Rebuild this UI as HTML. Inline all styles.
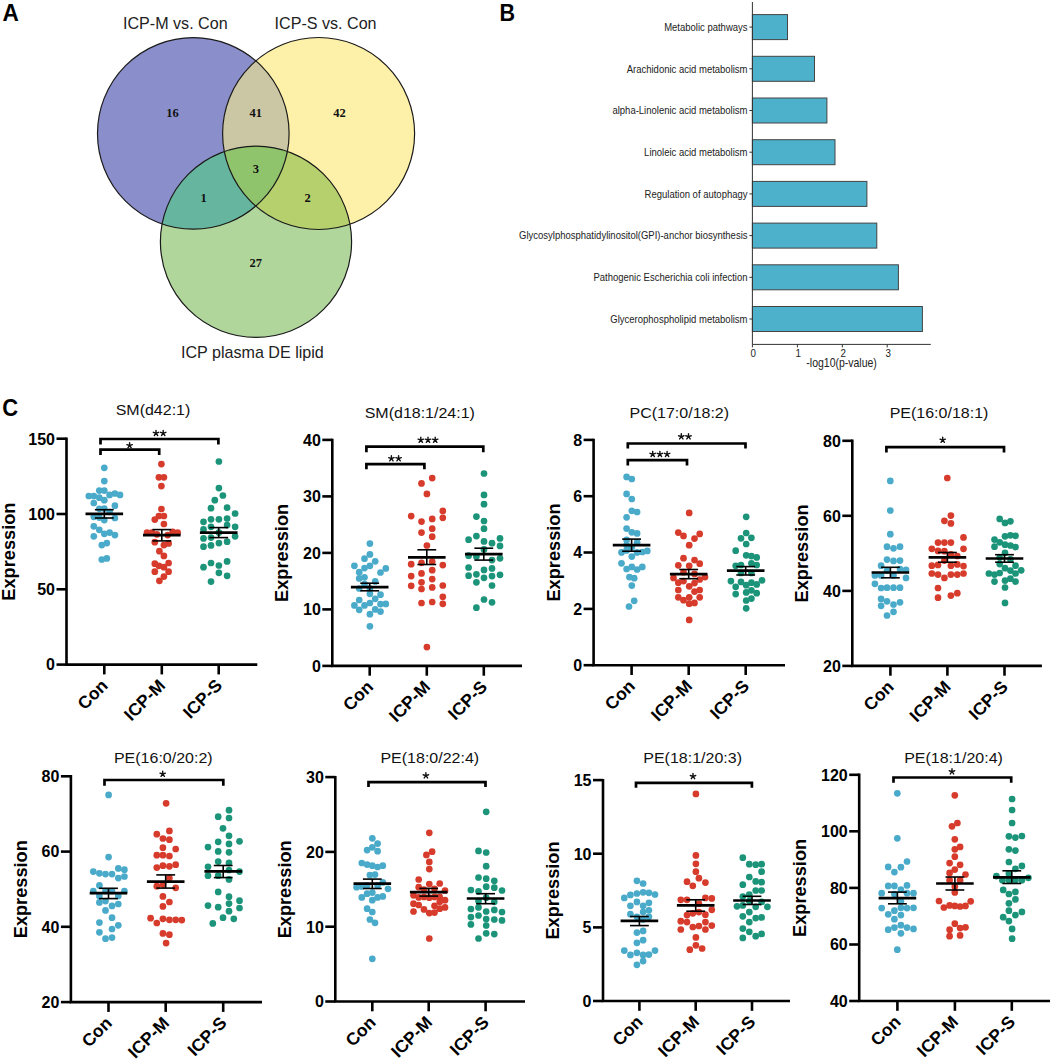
<!DOCTYPE html><html><head><meta charset="utf-8"><style>html,body{margin:0;padding:0;background:#fff;}svg{display:block;}</style></head><body><svg width="1052" height="1059" viewBox="0 0 1052 1059">
<rect width="1052" height="1059" fill="#fff"/>
<text transform="translate(2.6,20.6) scale(1.03,1.07)" font-family="'Liberation Sans', sans-serif" font-weight="700" font-size="22">A</text>
<text transform="translate(499.6,20.6) scale(0.98,1.06)" font-family="'Liberation Sans', sans-serif" font-weight="700" font-size="22">B</text>
<text transform="translate(2.3,415.6) scale(1,1.06)" font-family="'Liberation Sans', sans-serif" font-weight="700" font-size="22">C</text>
<defs>
<clipPath id="cb"><circle cx="193.3" cy="133.4" r="95.8"/></clipPath>
<clipPath id="cy"><circle cx="318.6" cy="133.5" r="96"/></clipPath>
</defs>
<circle cx="193.3" cy="133.4" r="95.8" fill="#8a8fcb" />
<circle cx="318.6" cy="133.5" r="96" fill="#fdf0a8" />
<circle cx="256" cy="241.8" r="95.6" fill="#b0d69c" />
<g clip-path="url(#cb)"><circle cx="318.6" cy="133.5" r="96" fill="#cbc6a3" /><circle cx="256" cy="241.8" r="95.6" fill="#66b59e" /></g>
<g clip-path="url(#cy)"><circle cx="256" cy="241.8" r="95.6" fill="#b6d06e" /></g>
<g clip-path="url(#cb)"><g clip-path="url(#cy)"><circle cx="256" cy="241.8" r="95.6" fill="#8fc36c" /></g></g>
<circle cx="193.3" cy="133.4" r="95.8" fill="none" stroke="#1a1a1a" stroke-width="1.2"/>
<circle cx="318.6" cy="133.5" r="96" fill="none" stroke="#1a1a1a" stroke-width="1.2"/>
<circle cx="256" cy="241.8" r="95.6" fill="none" stroke="#1a1a1a" stroke-width="1.2"/>
<text x="172.5" y="116.8" text-anchor="middle" font-family="'Liberation Serif', serif" font-weight="700" font-size="12.5" fill="#111">16</text>
<text x="255.8" y="116.8" text-anchor="middle" font-family="'Liberation Serif', serif" font-weight="700" font-size="12.5" fill="#111">41</text>
<text x="339.5" y="116.8" text-anchor="middle" font-family="'Liberation Serif', serif" font-weight="700" font-size="12.5" fill="#111">42</text>
<text x="255.8" y="172.9" text-anchor="middle" font-family="'Liberation Serif', serif" font-weight="700" font-size="12.5" fill="#111">3</text>
<text x="203.5" y="202.2" text-anchor="middle" font-family="'Liberation Serif', serif" font-weight="700" font-size="12.5" fill="#111">1</text>
<text x="307.7" y="202.2" text-anchor="middle" font-family="'Liberation Serif', serif" font-weight="700" font-size="12.5" fill="#111">2</text>
<text x="255.8" y="266.5" text-anchor="middle" font-family="'Liberation Serif', serif" font-weight="700" font-size="12.5" fill="#111">27</text>
<text x="123" y="28.7" font-family="'Liberation Sans', sans-serif" font-size="16.1" fill="#222">ICP-M vs. Con</text>
<text x="274.6" y="28.7" font-family="'Liberation Sans', sans-serif" font-size="16.1" fill="#222">ICP-S vs. Con</text>
<text x="181.0" y="357.6" font-family="'Liberation Sans', sans-serif" font-size="16.1" fill="#222">ICP plasma DE lipid</text>
<rect x="752.4" y="14.6" width="35.1" height="25.0" fill="#4eb1cb" stroke="#444" stroke-width="1"/>
<line x1="749.4" y1="27.1" x2="752.4" y2="27.1" stroke="#333" stroke-width="1"/>
<text transform="translate(747.5,30.9) scale(1,1.13)" text-anchor="end" font-family="'Liberation Sans', sans-serif" font-size="9.5" fill="#222">Metabolic pathways</text>
<rect x="752.4" y="56.3" width="62.1" height="25.0" fill="#4eb1cb" stroke="#444" stroke-width="1"/>
<line x1="749.4" y1="68.8" x2="752.4" y2="68.8" stroke="#333" stroke-width="1"/>
<text transform="translate(747.5,72.6) scale(1,1.13)" text-anchor="end" font-family="'Liberation Sans', sans-serif" font-size="9.5" fill="#222">Arachidonic acid metabolism</text>
<rect x="752.4" y="98.0" width="74.5" height="25.0" fill="#4eb1cb" stroke="#444" stroke-width="1"/>
<line x1="749.4" y1="110.5" x2="752.4" y2="110.5" stroke="#333" stroke-width="1"/>
<text transform="translate(747.5,114.3) scale(1,1.13)" text-anchor="end" font-family="'Liberation Sans', sans-serif" font-size="9.5" fill="#222">alpha-Linolenic acid metabolism</text>
<rect x="752.4" y="139.7" width="82.6" height="25.0" fill="#4eb1cb" stroke="#444" stroke-width="1"/>
<line x1="749.4" y1="152.2" x2="752.4" y2="152.2" stroke="#333" stroke-width="1"/>
<text transform="translate(747.5,156.0) scale(1,1.13)" text-anchor="end" font-family="'Liberation Sans', sans-serif" font-size="9.5" fill="#222">Linoleic acid metabolism</text>
<rect x="752.4" y="181.4" width="114.5" height="25.0" fill="#4eb1cb" stroke="#444" stroke-width="1"/>
<line x1="749.4" y1="193.9" x2="752.4" y2="193.9" stroke="#333" stroke-width="1"/>
<text transform="translate(747.5,197.7) scale(1,1.13)" text-anchor="end" font-family="'Liberation Sans', sans-serif" font-size="9.5" fill="#222">Regulation of autophagy</text>
<rect x="752.4" y="223.1" width="124.4" height="25.0" fill="#4eb1cb" stroke="#444" stroke-width="1"/>
<line x1="749.4" y1="235.6" x2="752.4" y2="235.6" stroke="#333" stroke-width="1"/>
<text transform="translate(747.5,239.4) scale(1,1.13)" text-anchor="end" font-family="'Liberation Sans', sans-serif" font-size="9.5" fill="#222">Glycosylphosphatidylinositol(GPI)-anchor biosynthesis</text>
<rect x="752.4" y="264.8" width="146.0" height="25.0" fill="#4eb1cb" stroke="#444" stroke-width="1"/>
<line x1="749.4" y1="277.3" x2="752.4" y2="277.3" stroke="#333" stroke-width="1"/>
<text transform="translate(747.5,281.1) scale(1,1.13)" text-anchor="end" font-family="'Liberation Sans', sans-serif" font-size="9.5" fill="#222">Pathogenic Escherichia coli infection</text>
<rect x="752.4" y="306.5" width="170.0" height="25.0" fill="#4eb1cb" stroke="#444" stroke-width="1"/>
<line x1="749.4" y1="319.0" x2="752.4" y2="319.0" stroke="#333" stroke-width="1"/>
<text transform="translate(747.5,322.8) scale(1,1.13)" text-anchor="end" font-family="'Liberation Sans', sans-serif" font-size="9.5" fill="#222">Glycerophospholipid metabolism</text>
<line x1="752.4" y1="2" x2="752.4" y2="344.4" stroke="#333" stroke-width="1"/>
<line x1="752.4" y1="344.4" x2="930.8" y2="344.4" stroke="#333" stroke-width="1"/>
<line x1="752.4" y1="344.4" x2="752.4" y2="347.4" stroke="#333" stroke-width="1"/>
<text transform="translate(753.3,356.6) scale(1,1.1)" text-anchor="middle" font-family="'Liberation Sans', sans-serif" font-size="9.8" fill="#222">0</text>
<line x1="797.4" y1="344.4" x2="797.4" y2="347.4" stroke="#333" stroke-width="1"/>
<text transform="translate(798.2,356.6) scale(1,1.1)" text-anchor="middle" font-family="'Liberation Sans', sans-serif" font-size="9.8" fill="#222">1</text>
<line x1="842.3" y1="344.4" x2="842.3" y2="347.4" stroke="#333" stroke-width="1"/>
<text transform="translate(843.2,356.6) scale(1,1.1)" text-anchor="middle" font-family="'Liberation Sans', sans-serif" font-size="9.8" fill="#222">2</text>
<line x1="887.2" y1="344.4" x2="887.2" y2="347.4" stroke="#333" stroke-width="1"/>
<text transform="translate(888.1,356.6) scale(1,1.1)" text-anchor="middle" font-family="'Liberation Sans', sans-serif" font-size="9.8" fill="#222">3</text>
<text transform="translate(841.6,367.3) scale(1,1.13)" text-anchor="middle" font-family="'Liberation Sans', sans-serif" font-size="10.5" fill="#222">-log10(p-value)</text>
<circle cx="104.3" cy="467.8" r="3.35" fill="#4aaac9"/>
<circle cx="104.3" cy="481.1" r="3.35" fill="#4aaac9"/>
<circle cx="99.3" cy="490.6" r="3.35" fill="#4aaac9"/>
<circle cx="104.3" cy="490.6" r="3.35" fill="#4aaac9"/>
<circle cx="88.8" cy="496.0" r="3.35" fill="#4aaac9"/>
<circle cx="93.8" cy="496.0" r="3.35" fill="#4aaac9"/>
<circle cx="99.3" cy="497.7" r="3.35" fill="#4aaac9"/>
<circle cx="104.3" cy="500.2" r="3.35" fill="#4aaac9"/>
<circle cx="109.6" cy="494.9" r="3.35" fill="#4aaac9"/>
<circle cx="114.9" cy="493.5" r="3.35" fill="#4aaac9"/>
<circle cx="120.0" cy="494.9" r="3.35" fill="#4aaac9"/>
<circle cx="93.8" cy="503.0" r="3.35" fill="#4aaac9"/>
<circle cx="114.9" cy="505.7" r="3.35" fill="#4aaac9"/>
<circle cx="99.3" cy="508.8" r="3.35" fill="#4aaac9"/>
<circle cx="104.3" cy="508.5" r="3.35" fill="#4aaac9"/>
<circle cx="109.6" cy="511.8" r="3.35" fill="#4aaac9"/>
<circle cx="93.8" cy="516.8" r="3.35" fill="#4aaac9"/>
<circle cx="99.3" cy="517.6" r="3.35" fill="#4aaac9"/>
<circle cx="104.3" cy="520.1" r="3.35" fill="#4aaac9"/>
<circle cx="114.9" cy="518.0" r="3.35" fill="#4aaac9"/>
<circle cx="93.8" cy="526.3" r="3.35" fill="#4aaac9"/>
<circle cx="99.3" cy="529.8" r="3.35" fill="#4aaac9"/>
<circle cx="104.3" cy="533.8" r="3.35" fill="#4aaac9"/>
<circle cx="109.6" cy="532.6" r="3.35" fill="#4aaac9"/>
<circle cx="114.9" cy="535.1" r="3.35" fill="#4aaac9"/>
<circle cx="93.8" cy="536.3" r="3.35" fill="#4aaac9"/>
<circle cx="101.8" cy="545.1" r="3.35" fill="#4aaac9"/>
<circle cx="106.8" cy="543.1" r="3.35" fill="#4aaac9"/>
<circle cx="101.8" cy="559.5" r="3.35" fill="#4aaac9"/>
<circle cx="106.8" cy="558.4" r="3.35" fill="#4aaac9"/>
<circle cx="161.4" cy="464.1" r="3.35" fill="#d63b2b"/>
<circle cx="158.9" cy="477.3" r="3.35" fill="#d63b2b"/>
<circle cx="163.9" cy="477.3" r="3.35" fill="#d63b2b"/>
<circle cx="161.4" cy="486.1" r="3.35" fill="#d63b2b"/>
<circle cx="161.4" cy="509.0" r="3.35" fill="#d63b2b"/>
<circle cx="158.9" cy="516.0" r="3.35" fill="#d63b2b"/>
<circle cx="163.9" cy="516.0" r="3.35" fill="#d63b2b"/>
<circle cx="154.8" cy="519.6" r="3.35" fill="#d63b2b"/>
<circle cx="163.9" cy="524.0" r="3.35" fill="#d63b2b"/>
<circle cx="147.0" cy="532.6" r="3.35" fill="#d63b2b"/>
<circle cx="152.0" cy="532.6" r="3.35" fill="#d63b2b"/>
<circle cx="156.9" cy="534.3" r="3.35" fill="#d63b2b"/>
<circle cx="167.7" cy="535.1" r="3.35" fill="#d63b2b"/>
<circle cx="172.7" cy="531.8" r="3.35" fill="#d63b2b"/>
<circle cx="177.7" cy="532.6" r="3.35" fill="#d63b2b"/>
<circle cx="154.8" cy="542.2" r="3.35" fill="#d63b2b"/>
<circle cx="163.9" cy="545.1" r="3.35" fill="#d63b2b"/>
<circle cx="168.6" cy="543.4" r="3.35" fill="#d63b2b"/>
<circle cx="159.4" cy="551.2" r="3.35" fill="#d63b2b"/>
<circle cx="163.9" cy="555.9" r="3.35" fill="#d63b2b"/>
<circle cx="154.8" cy="563.7" r="3.35" fill="#d63b2b"/>
<circle cx="158.9" cy="565.8" r="3.35" fill="#d63b2b"/>
<circle cx="163.9" cy="567.2" r="3.35" fill="#d63b2b"/>
<circle cx="168.6" cy="563.0" r="3.35" fill="#d63b2b"/>
<circle cx="154.8" cy="571.7" r="3.35" fill="#d63b2b"/>
<circle cx="168.6" cy="571.7" r="3.35" fill="#d63b2b"/>
<circle cx="163.9" cy="576.6" r="3.35" fill="#d63b2b"/>
<circle cx="159.4" cy="580.8" r="3.35" fill="#d63b2b"/>
<circle cx="218.9" cy="461.5" r="3.35" fill="#1b9479"/>
<circle cx="218.9" cy="488.1" r="3.35" fill="#1b9479"/>
<circle cx="222.9" cy="495.5" r="3.35" fill="#1b9479"/>
<circle cx="214.8" cy="500.2" r="3.35" fill="#1b9479"/>
<circle cx="211.0" cy="508.2" r="3.35" fill="#1b9479"/>
<circle cx="227.1" cy="507.7" r="3.35" fill="#1b9479"/>
<circle cx="235.1" cy="513.5" r="3.35" fill="#1b9479"/>
<circle cx="203.5" cy="521.8" r="3.35" fill="#1b9479"/>
<circle cx="211.0" cy="519.3" r="3.35" fill="#1b9479"/>
<circle cx="218.9" cy="519.3" r="3.35" fill="#1b9479"/>
<circle cx="227.1" cy="518.5" r="3.35" fill="#1b9479"/>
<circle cx="227.1" cy="525.1" r="3.35" fill="#1b9479"/>
<circle cx="235.1" cy="526.8" r="3.35" fill="#1b9479"/>
<circle cx="211.0" cy="526.8" r="3.35" fill="#1b9479"/>
<circle cx="203.5" cy="529.3" r="3.35" fill="#1b9479"/>
<circle cx="203.5" cy="538.4" r="3.35" fill="#1b9479"/>
<circle cx="211.0" cy="537.6" r="3.35" fill="#1b9479"/>
<circle cx="218.9" cy="532.6" r="3.35" fill="#1b9479"/>
<circle cx="235.1" cy="536.3" r="3.35" fill="#1b9479"/>
<circle cx="203.5" cy="546.7" r="3.35" fill="#1b9479"/>
<circle cx="211.0" cy="545.4" r="3.35" fill="#1b9479"/>
<circle cx="218.9" cy="543.1" r="3.35" fill="#1b9479"/>
<circle cx="227.1" cy="541.7" r="3.35" fill="#1b9479"/>
<circle cx="211.0" cy="563.0" r="3.35" fill="#1b9479"/>
<circle cx="227.1" cy="561.4" r="3.35" fill="#1b9479"/>
<circle cx="203.5" cy="567.2" r="3.35" fill="#1b9479"/>
<circle cx="218.9" cy="565.5" r="3.35" fill="#1b9479"/>
<circle cx="218.9" cy="572.8" r="3.35" fill="#1b9479"/>
<circle cx="227.1" cy="575.8" r="3.35" fill="#1b9479"/>
<circle cx="211.0" cy="581.6" r="3.35" fill="#1b9479"/>
<line x1="85.5" y1="513.8" x2="123.1" y2="513.8" stroke="#000" stroke-width="2.7"/>
<line x1="104.3" y1="509.7" x2="104.3" y2="518.0" stroke="#000" stroke-width="1.6"/>
<line x1="94.9" y1="509.7" x2="113.7" y2="509.7" stroke="#000" stroke-width="1.6"/>
<line x1="94.9" y1="518.0" x2="113.7" y2="518.0" stroke="#000" stroke-width="1.6"/>
<line x1="143.0" y1="535.1" x2="180.6" y2="535.1" stroke="#000" stroke-width="2.7"/>
<line x1="161.8" y1="529.6" x2="161.8" y2="540.9" stroke="#000" stroke-width="1.6"/>
<line x1="152.4" y1="529.6" x2="171.2" y2="529.6" stroke="#000" stroke-width="1.6"/>
<line x1="152.4" y1="540.9" x2="171.2" y2="540.9" stroke="#000" stroke-width="1.6"/>
<line x1="199.9" y1="532.6" x2="237.5" y2="532.6" stroke="#000" stroke-width="2.7"/>
<line x1="218.7" y1="527.6" x2="218.7" y2="537.6" stroke="#000" stroke-width="1.6"/>
<line x1="209.3" y1="527.6" x2="228.1" y2="527.6" stroke="#000" stroke-width="1.6"/>
<line x1="209.3" y1="537.6" x2="228.1" y2="537.6" stroke="#000" stroke-width="1.6"/>
<path d="M66.5 437.5 V664.6 H257.3" fill="none" stroke="#000" stroke-width="2.6"/>
<line x1="56.5" y1="664.6" x2="66.5" y2="664.6" stroke="#000" stroke-width="2.6"/>
<text x="55.0" y="670.4" text-anchor="end" font-family="'Liberation Sans', sans-serif" font-weight="700" font-size="16">0</text>
<line x1="56.5" y1="589.3" x2="66.5" y2="589.3" stroke="#000" stroke-width="2.6"/>
<text x="55.0" y="595.1" text-anchor="end" font-family="'Liberation Sans', sans-serif" font-weight="700" font-size="16">50</text>
<line x1="56.5" y1="514.0" x2="66.5" y2="514.0" stroke="#000" stroke-width="2.6"/>
<text x="55.0" y="519.8" text-anchor="end" font-family="'Liberation Sans', sans-serif" font-weight="700" font-size="16">100</text>
<line x1="56.5" y1="438.7" x2="66.5" y2="438.7" stroke="#000" stroke-width="2.6"/>
<text x="55.0" y="444.5" text-anchor="end" font-family="'Liberation Sans', sans-serif" font-weight="700" font-size="16">150</text>
<line x1="104.3" y1="664.6" x2="104.3" y2="674.4" stroke="#000" stroke-width="2.6"/>
<text transform="translate(108.8,686.6) rotate(-45)" text-anchor="end" font-family="'Liberation Sans', sans-serif" font-weight="700" font-size="17.5">Con</text>
<line x1="161.8" y1="664.6" x2="161.8" y2="674.4" stroke="#000" stroke-width="2.6"/>
<text transform="translate(166.3,686.6) rotate(-45)" text-anchor="end" font-family="'Liberation Sans', sans-serif" font-weight="700" font-size="17.5">ICP-M</text>
<line x1="218.7" y1="664.6" x2="218.7" y2="674.4" stroke="#000" stroke-width="2.6"/>
<text transform="translate(223.2,686.6) rotate(-45)" text-anchor="end" font-family="'Liberation Sans', sans-serif" font-weight="700" font-size="17.5">ICP-S</text>
<text transform="translate(14.5,551.6) rotate(-90)" text-anchor="middle" font-family="'Liberation Sans', sans-serif" font-weight="700" font-size="18.2">Expression</text>
<text transform="translate(153.0,414.6) scale(1,0.9)" text-anchor="middle" font-family="'Liberation Sans', sans-serif" font-size="16" fill="#111">SM(d42:1)</text>
<path d="M100.5 444.5 V439.0 H218.4 V444.5" fill="none" stroke="#000" stroke-width="2.7"/>
<path d="M156.00 433.20L156.00 430.35M156.00 433.20L158.71 432.32M156.00 433.20L157.68 435.51M156.00 433.20L154.32 435.51M156.00 433.20L153.29 432.32" stroke="#111" stroke-width="1.4" stroke-linecap="round" fill="none"/>
<path d="M163.20 433.20L163.20 430.35M163.20 433.20L165.91 432.32M163.20 433.20L164.88 435.51M163.20 433.20L161.52 435.51M163.20 433.20L160.49 432.32" stroke="#111" stroke-width="1.4" stroke-linecap="round" fill="none"/>
<path d="M100.5 455.1 V449.6 H159.2 V455.1" fill="none" stroke="#000" stroke-width="2.7"/>
<path d="M129.60 445.50L129.60 442.65M129.60 445.50L132.31 444.62M129.60 445.50L131.28 447.81M129.60 445.50L127.92 447.81M129.60 445.50L126.89 444.62" stroke="#111" stroke-width="1.4" stroke-linecap="round" fill="none"/>
<circle cx="369.9" cy="543.6" r="3.35" fill="#4aaac9"/>
<circle cx="369.9" cy="554.4" r="3.35" fill="#4aaac9"/>
<circle cx="364.5" cy="558.7" r="3.35" fill="#4aaac9"/>
<circle cx="375.2" cy="561.3" r="3.35" fill="#4aaac9"/>
<circle cx="354.4" cy="565.8" r="3.35" fill="#4aaac9"/>
<circle cx="364.5" cy="568.1" r="3.35" fill="#4aaac9"/>
<circle cx="369.9" cy="565.8" r="3.35" fill="#4aaac9"/>
<circle cx="385.8" cy="568.4" r="3.35" fill="#4aaac9"/>
<circle cx="359.2" cy="572.2" r="3.35" fill="#4aaac9"/>
<circle cx="380.5" cy="572.5" r="3.35" fill="#4aaac9"/>
<circle cx="359.2" cy="578.4" r="3.35" fill="#4aaac9"/>
<circle cx="364.5" cy="577.3" r="3.35" fill="#4aaac9"/>
<circle cx="375.2" cy="581.4" r="3.35" fill="#4aaac9"/>
<circle cx="364.5" cy="584.1" r="3.35" fill="#4aaac9"/>
<circle cx="369.9" cy="588.5" r="3.35" fill="#4aaac9"/>
<circle cx="359.2" cy="588.5" r="3.35" fill="#4aaac9"/>
<circle cx="369.9" cy="593.8" r="3.35" fill="#4aaac9"/>
<circle cx="380.5" cy="594.7" r="3.35" fill="#4aaac9"/>
<circle cx="359.2" cy="600.0" r="3.35" fill="#4aaac9"/>
<circle cx="375.2" cy="598.8" r="3.35" fill="#4aaac9"/>
<circle cx="354.4" cy="605.4" r="3.35" fill="#4aaac9"/>
<circle cx="364.5" cy="605.4" r="3.35" fill="#4aaac9"/>
<circle cx="369.9" cy="603.0" r="3.35" fill="#4aaac9"/>
<circle cx="380.5" cy="604.1" r="3.35" fill="#4aaac9"/>
<circle cx="385.8" cy="603.9" r="3.35" fill="#4aaac9"/>
<circle cx="359.2" cy="609.8" r="3.35" fill="#4aaac9"/>
<circle cx="375.2" cy="609.4" r="3.35" fill="#4aaac9"/>
<circle cx="380.5" cy="611.6" r="3.35" fill="#4aaac9"/>
<circle cx="369.9" cy="614.2" r="3.35" fill="#4aaac9"/>
<circle cx="369.9" cy="626.3" r="3.35" fill="#4aaac9"/>
<circle cx="432.2" cy="478.1" r="3.35" fill="#d63b2b"/>
<circle cx="421.5" cy="483.4" r="3.35" fill="#d63b2b"/>
<circle cx="426.9" cy="493.9" r="3.35" fill="#d63b2b"/>
<circle cx="442.8" cy="510.9" r="3.35" fill="#d63b2b"/>
<circle cx="442.8" cy="517.8" r="3.35" fill="#d63b2b"/>
<circle cx="411.2" cy="516.1" r="3.35" fill="#d63b2b"/>
<circle cx="421.5" cy="521.6" r="3.35" fill="#d63b2b"/>
<circle cx="432.2" cy="518.9" r="3.35" fill="#d63b2b"/>
<circle cx="421.5" cy="532.6" r="3.35" fill="#d63b2b"/>
<circle cx="432.2" cy="528.7" r="3.35" fill="#d63b2b"/>
<circle cx="432.2" cy="536.7" r="3.35" fill="#d63b2b"/>
<circle cx="426.9" cy="545.5" r="3.35" fill="#d63b2b"/>
<circle cx="432.2" cy="561.5" r="3.35" fill="#d63b2b"/>
<circle cx="421.5" cy="562.8" r="3.35" fill="#d63b2b"/>
<circle cx="411.2" cy="564.2" r="3.35" fill="#d63b2b"/>
<circle cx="442.8" cy="565.1" r="3.35" fill="#d63b2b"/>
<circle cx="421.5" cy="573.4" r="3.35" fill="#d63b2b"/>
<circle cx="432.2" cy="570.2" r="3.35" fill="#d63b2b"/>
<circle cx="411.2" cy="576.1" r="3.35" fill="#d63b2b"/>
<circle cx="432.2" cy="579.1" r="3.35" fill="#d63b2b"/>
<circle cx="421.5" cy="582.3" r="3.35" fill="#d63b2b"/>
<circle cx="411.2" cy="585.8" r="3.35" fill="#d63b2b"/>
<circle cx="421.5" cy="589.0" r="3.35" fill="#d63b2b"/>
<circle cx="432.2" cy="587.4" r="3.35" fill="#d63b2b"/>
<circle cx="442.8" cy="585.5" r="3.35" fill="#d63b2b"/>
<circle cx="442.8" cy="596.8" r="3.35" fill="#d63b2b"/>
<circle cx="421.5" cy="603.0" r="3.35" fill="#d63b2b"/>
<circle cx="432.2" cy="602.0" r="3.35" fill="#d63b2b"/>
<circle cx="442.8" cy="603.8" r="3.35" fill="#d63b2b"/>
<circle cx="426.9" cy="647.1" r="3.35" fill="#d63b2b"/>
<circle cx="484.0" cy="473.5" r="3.35" fill="#1b9479"/>
<circle cx="484.0" cy="494.9" r="3.35" fill="#1b9479"/>
<circle cx="484.0" cy="504.2" r="3.35" fill="#1b9479"/>
<circle cx="476.4" cy="516.6" r="3.35" fill="#1b9479"/>
<circle cx="484.0" cy="521.0" r="3.35" fill="#1b9479"/>
<circle cx="484.0" cy="528.7" r="3.35" fill="#1b9479"/>
<circle cx="476.4" cy="536.1" r="3.35" fill="#1b9479"/>
<circle cx="468.6" cy="539.7" r="3.35" fill="#1b9479"/>
<circle cx="484.0" cy="541.4" r="3.35" fill="#1b9479"/>
<circle cx="492.0" cy="543.2" r="3.35" fill="#1b9479"/>
<circle cx="500.0" cy="538.4" r="3.35" fill="#1b9479"/>
<circle cx="500.0" cy="545.9" r="3.35" fill="#1b9479"/>
<circle cx="468.6" cy="555.7" r="3.35" fill="#1b9479"/>
<circle cx="476.4" cy="556.5" r="3.35" fill="#1b9479"/>
<circle cx="484.0" cy="549.4" r="3.35" fill="#1b9479"/>
<circle cx="492.0" cy="560.1" r="3.35" fill="#1b9479"/>
<circle cx="500.0" cy="558.3" r="3.35" fill="#1b9479"/>
<circle cx="468.6" cy="567.5" r="3.35" fill="#1b9479"/>
<circle cx="484.0" cy="569.9" r="3.35" fill="#1b9479"/>
<circle cx="492.0" cy="568.4" r="3.35" fill="#1b9479"/>
<circle cx="468.6" cy="575.7" r="3.35" fill="#1b9479"/>
<circle cx="476.4" cy="574.3" r="3.35" fill="#1b9479"/>
<circle cx="484.0" cy="577.8" r="3.35" fill="#1b9479"/>
<circle cx="492.0" cy="576.1" r="3.35" fill="#1b9479"/>
<circle cx="500.0" cy="574.8" r="3.35" fill="#1b9479"/>
<circle cx="476.4" cy="582.3" r="3.35" fill="#1b9479"/>
<circle cx="492.0" cy="585.5" r="3.35" fill="#1b9479"/>
<circle cx="484.0" cy="599.5" r="3.35" fill="#1b9479"/>
<circle cx="492.0" cy="602.3" r="3.35" fill="#1b9479"/>
<circle cx="476.4" cy="607.7" r="3.35" fill="#1b9479"/>
<line x1="350.9" y1="587.1" x2="388.5" y2="587.1" stroke="#000" stroke-width="2.7"/>
<line x1="369.7" y1="583.2" x2="369.7" y2="590.8" stroke="#000" stroke-width="1.6"/>
<line x1="360.3" y1="583.2" x2="379.1" y2="583.2" stroke="#000" stroke-width="1.6"/>
<line x1="360.3" y1="590.8" x2="379.1" y2="590.8" stroke="#000" stroke-width="1.6"/>
<line x1="408.0" y1="557.4" x2="445.6" y2="557.4" stroke="#000" stroke-width="2.7"/>
<line x1="426.8" y1="549.8" x2="426.8" y2="564.5" stroke="#000" stroke-width="1.6"/>
<line x1="417.4" y1="549.8" x2="436.2" y2="549.8" stroke="#000" stroke-width="1.6"/>
<line x1="417.4" y1="564.5" x2="436.2" y2="564.5" stroke="#000" stroke-width="1.6"/>
<line x1="465.0" y1="554.2" x2="502.6" y2="554.2" stroke="#000" stroke-width="2.7"/>
<line x1="483.8" y1="548.2" x2="483.8" y2="560.1" stroke="#000" stroke-width="1.6"/>
<line x1="474.4" y1="548.2" x2="493.2" y2="548.2" stroke="#000" stroke-width="1.6"/>
<line x1="474.4" y1="560.1" x2="493.2" y2="560.1" stroke="#000" stroke-width="1.6"/>
<path d="M332.3 438.7 V665.9 H522" fill="none" stroke="#000" stroke-width="2.6"/>
<line x1="322.3" y1="665.9" x2="332.3" y2="665.9" stroke="#000" stroke-width="2.6"/>
<text x="320.8" y="671.7" text-anchor="end" font-family="'Liberation Sans', sans-serif" font-weight="700" font-size="16">0</text>
<line x1="322.3" y1="609.4" x2="332.3" y2="609.4" stroke="#000" stroke-width="2.6"/>
<text x="320.8" y="615.2" text-anchor="end" font-family="'Liberation Sans', sans-serif" font-weight="700" font-size="16">10</text>
<line x1="322.3" y1="552.9" x2="332.3" y2="552.9" stroke="#000" stroke-width="2.6"/>
<text x="320.8" y="558.7" text-anchor="end" font-family="'Liberation Sans', sans-serif" font-weight="700" font-size="16">20</text>
<line x1="322.3" y1="496.4" x2="332.3" y2="496.4" stroke="#000" stroke-width="2.6"/>
<text x="320.8" y="502.2" text-anchor="end" font-family="'Liberation Sans', sans-serif" font-weight="700" font-size="16">30</text>
<line x1="322.3" y1="439.9" x2="332.3" y2="439.9" stroke="#000" stroke-width="2.6"/>
<text x="320.8" y="445.7" text-anchor="end" font-family="'Liberation Sans', sans-serif" font-weight="700" font-size="16">40</text>
<line x1="369.7" y1="665.9" x2="369.7" y2="675.6999999999999" stroke="#000" stroke-width="2.6"/>
<text transform="translate(374.2,687.9) rotate(-45)" text-anchor="end" font-family="'Liberation Sans', sans-serif" font-weight="700" font-size="17.5">Con</text>
<line x1="426.8" y1="665.9" x2="426.8" y2="675.6999999999999" stroke="#000" stroke-width="2.6"/>
<text transform="translate(431.3,687.9) rotate(-45)" text-anchor="end" font-family="'Liberation Sans', sans-serif" font-weight="700" font-size="17.5">ICP-M</text>
<line x1="483.8" y1="665.9" x2="483.8" y2="675.6999999999999" stroke="#000" stroke-width="2.6"/>
<text transform="translate(488.3,687.9) rotate(-45)" text-anchor="end" font-family="'Liberation Sans', sans-serif" font-weight="700" font-size="17.5">ICP-S</text>
<text transform="translate(288,552.9) rotate(-90)" text-anchor="middle" font-family="'Liberation Sans', sans-serif" font-weight="700" font-size="18.2">Expression</text>
<text transform="translate(419.8,417.8) scale(1,0.9)" text-anchor="middle" font-family="'Liberation Sans', sans-serif" font-size="16" fill="#111">SM(d18:1/24:1)</text>
<path d="M366.4 452.2 V446.7 H483.3 V452.2" fill="none" stroke="#000" stroke-width="2.7"/>
<path d="M420.80 440.00L420.80 437.15M420.80 440.00L423.51 439.12M420.80 440.00L422.48 442.31M420.80 440.00L419.12 442.31M420.80 440.00L418.09 439.12" stroke="#111" stroke-width="1.4" stroke-linecap="round" fill="none"/>
<path d="M428.00 440.00L428.00 437.15M428.00 440.00L430.71 439.12M428.00 440.00L429.68 442.31M428.00 440.00L426.32 442.31M428.00 440.00L425.29 439.12" stroke="#111" stroke-width="1.4" stroke-linecap="round" fill="none"/>
<path d="M435.20 440.00L435.20 437.15M435.20 440.00L437.91 439.12M435.20 440.00L436.88 442.31M435.20 440.00L433.52 442.31M435.20 440.00L432.49 439.12" stroke="#111" stroke-width="1.4" stroke-linecap="round" fill="none"/>
<path d="M366.4 469.2 V464.2 H424.4 V469.2" fill="none" stroke="#000" stroke-width="2.7"/>
<path d="M391.40 458.50L391.40 455.65M391.40 458.50L394.11 457.62M391.40 458.50L393.08 460.81M391.40 458.50L389.72 460.81M391.40 458.50L388.69 457.62" stroke="#111" stroke-width="1.4" stroke-linecap="round" fill="none"/>
<path d="M398.60 458.50L398.60 455.65M398.60 458.50L401.31 457.62M398.60 458.50L400.28 460.81M398.60 458.50L396.92 460.81M398.60 458.50L395.89 457.62" stroke="#111" stroke-width="1.4" stroke-linecap="round" fill="none"/>
<circle cx="626.6" cy="476.9" r="3.35" fill="#4aaac9"/>
<circle cx="631.8" cy="479.0" r="3.35" fill="#4aaac9"/>
<circle cx="626.6" cy="493.9" r="3.35" fill="#4aaac9"/>
<circle cx="631.8" cy="499.0" r="3.35" fill="#4aaac9"/>
<circle cx="631.8" cy="510.8" r="3.35" fill="#4aaac9"/>
<circle cx="637.1" cy="512.0" r="3.35" fill="#4aaac9"/>
<circle cx="626.6" cy="517.3" r="3.35" fill="#4aaac9"/>
<circle cx="626.6" cy="528.6" r="3.35" fill="#4aaac9"/>
<circle cx="631.8" cy="532.3" r="3.35" fill="#4aaac9"/>
<circle cx="637.1" cy="533.4" r="3.35" fill="#4aaac9"/>
<circle cx="626.6" cy="539.9" r="3.35" fill="#4aaac9"/>
<circle cx="637.1" cy="542.3" r="3.35" fill="#4aaac9"/>
<circle cx="631.8" cy="547.2" r="3.35" fill="#4aaac9"/>
<circle cx="626.6" cy="545.2" r="3.35" fill="#4aaac9"/>
<circle cx="621.5" cy="552.4" r="3.35" fill="#4aaac9"/>
<circle cx="626.6" cy="550.4" r="3.35" fill="#4aaac9"/>
<circle cx="631.8" cy="556.6" r="3.35" fill="#4aaac9"/>
<circle cx="637.1" cy="552.4" r="3.35" fill="#4aaac9"/>
<circle cx="642.3" cy="552.0" r="3.35" fill="#4aaac9"/>
<circle cx="647.3" cy="550.9" r="3.35" fill="#4aaac9"/>
<circle cx="621.5" cy="563.3" r="3.35" fill="#4aaac9"/>
<circle cx="626.6" cy="569.0" r="3.35" fill="#4aaac9"/>
<circle cx="631.8" cy="566.9" r="3.35" fill="#4aaac9"/>
<circle cx="637.1" cy="569.5" r="3.35" fill="#4aaac9"/>
<circle cx="642.3" cy="566.9" r="3.35" fill="#4aaac9"/>
<circle cx="629.4" cy="577.1" r="3.35" fill="#4aaac9"/>
<circle cx="634.2" cy="578.2" r="3.35" fill="#4aaac9"/>
<circle cx="631.8" cy="585.6" r="3.35" fill="#4aaac9"/>
<circle cx="634.2" cy="600.8" r="3.35" fill="#4aaac9"/>
<circle cx="629.0" cy="606.5" r="3.35" fill="#4aaac9"/>
<circle cx="689.2" cy="512.9" r="3.35" fill="#d63b2b"/>
<circle cx="678.3" cy="532.6" r="3.35" fill="#d63b2b"/>
<circle cx="683.5" cy="535.9" r="3.35" fill="#d63b2b"/>
<circle cx="694.5" cy="538.6" r="3.35" fill="#d63b2b"/>
<circle cx="699.7" cy="533.9" r="3.35" fill="#d63b2b"/>
<circle cx="689.2" cy="545.2" r="3.35" fill="#d63b2b"/>
<circle cx="683.5" cy="558.2" r="3.35" fill="#d63b2b"/>
<circle cx="694.5" cy="560.1" r="3.35" fill="#d63b2b"/>
<circle cx="699.7" cy="563.7" r="3.35" fill="#d63b2b"/>
<circle cx="678.3" cy="565.3" r="3.35" fill="#d63b2b"/>
<circle cx="689.2" cy="565.8" r="3.35" fill="#d63b2b"/>
<circle cx="673.5" cy="577.9" r="3.35" fill="#d63b2b"/>
<circle cx="678.3" cy="582.7" r="3.35" fill="#d63b2b"/>
<circle cx="683.5" cy="581.1" r="3.35" fill="#d63b2b"/>
<circle cx="689.2" cy="586.3" r="3.35" fill="#d63b2b"/>
<circle cx="694.5" cy="583.1" r="3.35" fill="#d63b2b"/>
<circle cx="699.7" cy="579.5" r="3.35" fill="#d63b2b"/>
<circle cx="705.0" cy="577.1" r="3.35" fill="#d63b2b"/>
<circle cx="683.5" cy="572.2" r="3.35" fill="#d63b2b"/>
<circle cx="694.5" cy="573.9" r="3.35" fill="#d63b2b"/>
<circle cx="678.3" cy="590.0" r="3.35" fill="#d63b2b"/>
<circle cx="694.5" cy="591.6" r="3.35" fill="#d63b2b"/>
<circle cx="699.7" cy="590.0" r="3.35" fill="#d63b2b"/>
<circle cx="678.3" cy="597.3" r="3.35" fill="#d63b2b"/>
<circle cx="683.5" cy="600.2" r="3.35" fill="#d63b2b"/>
<circle cx="689.2" cy="597.3" r="3.35" fill="#d63b2b"/>
<circle cx="689.2" cy="603.7" r="3.35" fill="#d63b2b"/>
<circle cx="694.5" cy="602.9" r="3.35" fill="#d63b2b"/>
<circle cx="699.7" cy="597.3" r="3.35" fill="#d63b2b"/>
<circle cx="689.2" cy="619.9" r="3.35" fill="#d63b2b"/>
<circle cx="746.2" cy="516.8" r="3.35" fill="#1b9479"/>
<circle cx="746.2" cy="533.0" r="3.35" fill="#1b9479"/>
<circle cx="741.0" cy="538.3" r="3.35" fill="#1b9479"/>
<circle cx="751.4" cy="537.8" r="3.35" fill="#1b9479"/>
<circle cx="746.2" cy="544.0" r="3.35" fill="#1b9479"/>
<circle cx="735.7" cy="550.7" r="3.35" fill="#1b9479"/>
<circle cx="746.2" cy="555.3" r="3.35" fill="#1b9479"/>
<circle cx="751.4" cy="556.1" r="3.35" fill="#1b9479"/>
<circle cx="756.7" cy="557.4" r="3.35" fill="#1b9479"/>
<circle cx="735.7" cy="565.8" r="3.35" fill="#1b9479"/>
<circle cx="741.0" cy="565.0" r="3.35" fill="#1b9479"/>
<circle cx="751.4" cy="563.3" r="3.35" fill="#1b9479"/>
<circle cx="756.7" cy="565.0" r="3.35" fill="#1b9479"/>
<circle cx="741.0" cy="573.0" r="3.35" fill="#1b9479"/>
<circle cx="751.4" cy="573.0" r="3.35" fill="#1b9479"/>
<circle cx="730.9" cy="581.1" r="3.35" fill="#1b9479"/>
<circle cx="741.0" cy="581.9" r="3.35" fill="#1b9479"/>
<circle cx="746.2" cy="585.2" r="3.35" fill="#1b9479"/>
<circle cx="751.4" cy="582.7" r="3.35" fill="#1b9479"/>
<circle cx="756.7" cy="584.4" r="3.35" fill="#1b9479"/>
<circle cx="762.0" cy="580.3" r="3.35" fill="#1b9479"/>
<circle cx="735.7" cy="586.8" r="3.35" fill="#1b9479"/>
<circle cx="746.2" cy="592.4" r="3.35" fill="#1b9479"/>
<circle cx="751.4" cy="590.3" r="3.35" fill="#1b9479"/>
<circle cx="756.7" cy="593.2" r="3.35" fill="#1b9479"/>
<circle cx="735.7" cy="594.1" r="3.35" fill="#1b9479"/>
<circle cx="746.2" cy="600.5" r="3.35" fill="#1b9479"/>
<circle cx="751.4" cy="598.6" r="3.35" fill="#1b9479"/>
<circle cx="746.2" cy="608.3" r="3.35" fill="#1b9479"/>
<line x1="612.8" y1="545.2" x2="650.4" y2="545.2" stroke="#000" stroke-width="2.7"/>
<line x1="631.6" y1="539.1" x2="631.6" y2="551.2" stroke="#000" stroke-width="1.6"/>
<line x1="622.2" y1="539.1" x2="641.0" y2="539.1" stroke="#000" stroke-width="1.6"/>
<line x1="622.2" y1="551.2" x2="641.0" y2="551.2" stroke="#000" stroke-width="1.6"/>
<line x1="669.9" y1="574.2" x2="707.5" y2="574.2" stroke="#000" stroke-width="2.7"/>
<line x1="688.7" y1="569.5" x2="688.7" y2="578.7" stroke="#000" stroke-width="1.6"/>
<line x1="679.3" y1="569.5" x2="698.1" y2="569.5" stroke="#000" stroke-width="1.6"/>
<line x1="679.3" y1="578.7" x2="698.1" y2="578.7" stroke="#000" stroke-width="1.6"/>
<line x1="726.9" y1="570.6" x2="764.5" y2="570.6" stroke="#000" stroke-width="2.7"/>
<line x1="745.7" y1="566.6" x2="745.7" y2="575.0" stroke="#000" stroke-width="1.6"/>
<line x1="736.3" y1="566.6" x2="755.1" y2="566.6" stroke="#000" stroke-width="1.6"/>
<line x1="736.3" y1="575.0" x2="755.1" y2="575.0" stroke="#000" stroke-width="1.6"/>
<path d="M593.6 438.7 V665.2 H785" fill="none" stroke="#000" stroke-width="2.6"/>
<line x1="583.6" y1="665.2" x2="593.6" y2="665.2" stroke="#000" stroke-width="2.6"/>
<text x="582.1" y="671.0" text-anchor="end" font-family="'Liberation Sans', sans-serif" font-weight="700" font-size="16">0</text>
<line x1="583.6" y1="608.9" x2="593.6" y2="608.9" stroke="#000" stroke-width="2.6"/>
<text x="582.1" y="614.7" text-anchor="end" font-family="'Liberation Sans', sans-serif" font-weight="700" font-size="16">2</text>
<line x1="583.6" y1="552.5" x2="593.6" y2="552.5" stroke="#000" stroke-width="2.6"/>
<text x="582.1" y="558.3" text-anchor="end" font-family="'Liberation Sans', sans-serif" font-weight="700" font-size="16">4</text>
<line x1="583.6" y1="496.2" x2="593.6" y2="496.2" stroke="#000" stroke-width="2.6"/>
<text x="582.1" y="502.0" text-anchor="end" font-family="'Liberation Sans', sans-serif" font-weight="700" font-size="16">6</text>
<line x1="583.6" y1="439.9" x2="593.6" y2="439.9" stroke="#000" stroke-width="2.6"/>
<text x="582.1" y="445.7" text-anchor="end" font-family="'Liberation Sans', sans-serif" font-weight="700" font-size="16">8</text>
<line x1="631.6" y1="665.2" x2="631.6" y2="675.0" stroke="#000" stroke-width="2.6"/>
<text transform="translate(636.1,687.2) rotate(-45)" text-anchor="end" font-family="'Liberation Sans', sans-serif" font-weight="700" font-size="17.5">Con</text>
<line x1="688.7" y1="665.2" x2="688.7" y2="675.0" stroke="#000" stroke-width="2.6"/>
<text transform="translate(693.2,687.2) rotate(-45)" text-anchor="end" font-family="'Liberation Sans', sans-serif" font-weight="700" font-size="17.5">ICP-M</text>
<line x1="745.7" y1="665.2" x2="745.7" y2="675.0" stroke="#000" stroke-width="2.6"/>
<text transform="translate(750.2,687.2) rotate(-45)" text-anchor="end" font-family="'Liberation Sans', sans-serif" font-weight="700" font-size="17.5">ICP-S</text>
<text transform="translate(560,552.5) rotate(-90)" text-anchor="middle" font-family="'Liberation Sans', sans-serif" font-weight="700" font-size="18.2">Expression</text>
<text transform="translate(679.3,418.2) scale(1,0.9)" text-anchor="middle" font-family="'Liberation Sans', sans-serif" font-size="16" fill="#111">PC(17:0/18:2)</text>
<path d="M627.8 448.5 V443.5 H745.5 V448.5" fill="none" stroke="#000" stroke-width="2.7"/>
<path d="M681.30 436.60L681.30 433.75M681.30 436.60L684.01 435.72M681.30 436.60L682.98 438.91M681.30 436.60L679.62 438.91M681.30 436.60L678.59 435.72" stroke="#111" stroke-width="1.4" stroke-linecap="round" fill="none"/>
<path d="M688.50 436.60L688.50 433.75M688.50 436.60L691.21 435.72M688.50 436.60L690.18 438.91M688.50 436.60L686.82 438.91M688.50 436.60L685.79 435.72" stroke="#111" stroke-width="1.4" stroke-linecap="round" fill="none"/>
<path d="M627.8 465.59999999999997 V460.2 H687.0 V465.59999999999997" fill="none" stroke="#000" stroke-width="2.7"/>
<path d="M652.70 454.20L652.70 451.35M652.70 454.20L655.41 453.32M652.70 454.20L654.38 456.51M652.70 454.20L651.02 456.51M652.70 454.20L649.99 453.32" stroke="#111" stroke-width="1.4" stroke-linecap="round" fill="none"/>
<path d="M659.90 454.20L659.90 451.35M659.90 454.20L662.61 453.32M659.90 454.20L661.58 456.51M659.90 454.20L658.22 456.51M659.90 454.20L657.19 453.32" stroke="#111" stroke-width="1.4" stroke-linecap="round" fill="none"/>
<path d="M667.10 454.20L667.10 451.35M667.10 454.20L669.81 453.32M667.10 454.20L668.78 456.51M667.10 454.20L665.42 456.51M667.10 454.20L664.39 453.32" stroke="#111" stroke-width="1.4" stroke-linecap="round" fill="none"/>
<circle cx="890.3" cy="480.9" r="3.35" fill="#4aaac9"/>
<circle cx="890.3" cy="510.5" r="3.35" fill="#4aaac9"/>
<circle cx="890.3" cy="534.2" r="3.35" fill="#4aaac9"/>
<circle cx="887.0" cy="546.7" r="3.35" fill="#4aaac9"/>
<circle cx="893.5" cy="548.3" r="3.35" fill="#4aaac9"/>
<circle cx="900.0" cy="546.7" r="3.35" fill="#4aaac9"/>
<circle cx="887.0" cy="559.6" r="3.35" fill="#4aaac9"/>
<circle cx="893.5" cy="560.9" r="3.35" fill="#4aaac9"/>
<circle cx="900.0" cy="560.6" r="3.35" fill="#4aaac9"/>
<circle cx="881.1" cy="565.7" r="3.35" fill="#4aaac9"/>
<circle cx="887.0" cy="570.6" r="3.35" fill="#4aaac9"/>
<circle cx="900.0" cy="569.0" r="3.35" fill="#4aaac9"/>
<circle cx="906.0" cy="569.8" r="3.35" fill="#4aaac9"/>
<circle cx="874.9" cy="575.4" r="3.35" fill="#4aaac9"/>
<circle cx="906.0" cy="577.9" r="3.35" fill="#4aaac9"/>
<circle cx="881.1" cy="575.4" r="3.35" fill="#4aaac9"/>
<circle cx="893.5" cy="575.4" r="3.35" fill="#4aaac9"/>
<circle cx="874.9" cy="583.8" r="3.35" fill="#4aaac9"/>
<circle cx="881.1" cy="588.0" r="3.35" fill="#4aaac9"/>
<circle cx="887.0" cy="587.7" r="3.35" fill="#4aaac9"/>
<circle cx="893.5" cy="587.7" r="3.35" fill="#4aaac9"/>
<circle cx="900.0" cy="587.7" r="3.35" fill="#4aaac9"/>
<circle cx="881.1" cy="598.9" r="3.35" fill="#4aaac9"/>
<circle cx="887.0" cy="601.3" r="3.35" fill="#4aaac9"/>
<circle cx="893.5" cy="604.5" r="3.35" fill="#4aaac9"/>
<circle cx="900.0" cy="602.3" r="3.35" fill="#4aaac9"/>
<circle cx="881.1" cy="605.8" r="3.35" fill="#4aaac9"/>
<circle cx="893.5" cy="611.8" r="3.35" fill="#4aaac9"/>
<circle cx="887.0" cy="615.5" r="3.35" fill="#4aaac9"/>
<circle cx="947.3" cy="478.0" r="3.35" fill="#d63b2b"/>
<circle cx="950.9" cy="515.6" r="3.35" fill="#d63b2b"/>
<circle cx="944.4" cy="520.8" r="3.35" fill="#d63b2b"/>
<circle cx="950.9" cy="523.4" r="3.35" fill="#d63b2b"/>
<circle cx="963.5" cy="537.4" r="3.35" fill="#d63b2b"/>
<circle cx="938.0" cy="542.6" r="3.35" fill="#d63b2b"/>
<circle cx="944.4" cy="542.6" r="3.35" fill="#d63b2b"/>
<circle cx="950.9" cy="542.6" r="3.35" fill="#d63b2b"/>
<circle cx="931.8" cy="548.8" r="3.35" fill="#d63b2b"/>
<circle cx="938.0" cy="550.9" r="3.35" fill="#d63b2b"/>
<circle cx="963.5" cy="548.8" r="3.35" fill="#d63b2b"/>
<circle cx="944.4" cy="551.2" r="3.35" fill="#d63b2b"/>
<circle cx="950.9" cy="554.4" r="3.35" fill="#d63b2b"/>
<circle cx="957.3" cy="556.0" r="3.35" fill="#d63b2b"/>
<circle cx="931.8" cy="565.7" r="3.35" fill="#d63b2b"/>
<circle cx="938.0" cy="564.9" r="3.35" fill="#d63b2b"/>
<circle cx="950.9" cy="565.7" r="3.35" fill="#d63b2b"/>
<circle cx="957.3" cy="564.4" r="3.35" fill="#d63b2b"/>
<circle cx="963.5" cy="566.1" r="3.35" fill="#d63b2b"/>
<circle cx="931.8" cy="573.5" r="3.35" fill="#d63b2b"/>
<circle cx="938.0" cy="574.6" r="3.35" fill="#d63b2b"/>
<circle cx="944.4" cy="577.9" r="3.35" fill="#d63b2b"/>
<circle cx="950.9" cy="574.6" r="3.35" fill="#d63b2b"/>
<circle cx="957.3" cy="574.6" r="3.35" fill="#d63b2b"/>
<circle cx="963.5" cy="573.5" r="3.35" fill="#d63b2b"/>
<circle cx="944.4" cy="560.6" r="3.35" fill="#d63b2b"/>
<circle cx="938.0" cy="588.0" r="3.35" fill="#d63b2b"/>
<circle cx="938.0" cy="597.7" r="3.35" fill="#d63b2b"/>
<circle cx="950.9" cy="595.6" r="3.35" fill="#d63b2b"/>
<circle cx="957.3" cy="593.2" r="3.35" fill="#d63b2b"/>
<circle cx="999.7" cy="518.9" r="3.35" fill="#1b9479"/>
<circle cx="1005.0" cy="522.9" r="3.35" fill="#1b9479"/>
<circle cx="1010.4" cy="521.3" r="3.35" fill="#1b9479"/>
<circle cx="1005.0" cy="536.3" r="3.35" fill="#1b9479"/>
<circle cx="1010.4" cy="535.3" r="3.35" fill="#1b9479"/>
<circle cx="1015.5" cy="535.8" r="3.35" fill="#1b9479"/>
<circle cx="994.5" cy="539.6" r="3.35" fill="#1b9479"/>
<circle cx="999.7" cy="542.3" r="3.35" fill="#1b9479"/>
<circle cx="1005.0" cy="544.7" r="3.35" fill="#1b9479"/>
<circle cx="1010.4" cy="545.5" r="3.35" fill="#1b9479"/>
<circle cx="1015.5" cy="547.1" r="3.35" fill="#1b9479"/>
<circle cx="994.5" cy="546.7" r="3.35" fill="#1b9479"/>
<circle cx="1005.0" cy="552.8" r="3.35" fill="#1b9479"/>
<circle cx="999.7" cy="564.1" r="3.35" fill="#1b9479"/>
<circle cx="1005.0" cy="568.2" r="3.35" fill="#1b9479"/>
<circle cx="1010.4" cy="570.6" r="3.35" fill="#1b9479"/>
<circle cx="1015.5" cy="565.7" r="3.35" fill="#1b9479"/>
<circle cx="1021.2" cy="570.3" r="3.35" fill="#1b9479"/>
<circle cx="1015.5" cy="573.5" r="3.35" fill="#1b9479"/>
<circle cx="988.9" cy="573.5" r="3.35" fill="#1b9479"/>
<circle cx="994.5" cy="574.6" r="3.35" fill="#1b9479"/>
<circle cx="999.7" cy="573.0" r="3.35" fill="#1b9479"/>
<circle cx="994.5" cy="581.6" r="3.35" fill="#1b9479"/>
<circle cx="1005.0" cy="580.6" r="3.35" fill="#1b9479"/>
<circle cx="1010.4" cy="578.7" r="3.35" fill="#1b9479"/>
<circle cx="1015.5" cy="581.6" r="3.35" fill="#1b9479"/>
<circle cx="1005.0" cy="587.5" r="3.35" fill="#1b9479"/>
<circle cx="1005.0" cy="602.9" r="3.35" fill="#1b9479"/>
<circle cx="999.7" cy="557.6" r="3.35" fill="#1b9479"/>
<circle cx="1010.4" cy="559.3" r="3.35" fill="#1b9479"/>
<line x1="871.6" y1="572.5" x2="909.2" y2="572.5" stroke="#000" stroke-width="2.7"/>
<line x1="890.4" y1="567.3" x2="890.4" y2="577.8" stroke="#000" stroke-width="1.6"/>
<line x1="881.0" y1="567.3" x2="899.8" y2="567.3" stroke="#000" stroke-width="1.6"/>
<line x1="881.0" y1="577.8" x2="899.8" y2="577.8" stroke="#000" stroke-width="1.6"/>
<line x1="928.6" y1="557.3" x2="966.2" y2="557.3" stroke="#000" stroke-width="2.7"/>
<line x1="947.4" y1="552.5" x2="947.4" y2="562.2" stroke="#000" stroke-width="1.6"/>
<line x1="938.0" y1="552.5" x2="956.8" y2="552.5" stroke="#000" stroke-width="1.6"/>
<line x1="938.0" y1="562.2" x2="956.8" y2="562.2" stroke="#000" stroke-width="1.6"/>
<line x1="985.7" y1="558.5" x2="1023.3" y2="558.5" stroke="#000" stroke-width="2.7"/>
<line x1="1004.5" y1="554.7" x2="1004.5" y2="562.2" stroke="#000" stroke-width="1.6"/>
<line x1="995.1" y1="554.7" x2="1013.9" y2="554.7" stroke="#000" stroke-width="1.6"/>
<line x1="995.1" y1="562.2" x2="1013.9" y2="562.2" stroke="#000" stroke-width="1.6"/>
<path d="M852.3 439.6 V665.9 H1041.9" fill="none" stroke="#000" stroke-width="2.6"/>
<line x1="842.3" y1="665.9" x2="852.3" y2="665.9" stroke="#000" stroke-width="2.6"/>
<text x="840.8" y="671.7" text-anchor="end" font-family="'Liberation Sans', sans-serif" font-weight="700" font-size="16">20</text>
<line x1="842.3" y1="590.9" x2="852.3" y2="590.9" stroke="#000" stroke-width="2.6"/>
<text x="840.8" y="596.7" text-anchor="end" font-family="'Liberation Sans', sans-serif" font-weight="700" font-size="16">40</text>
<line x1="842.3" y1="515.8" x2="852.3" y2="515.8" stroke="#000" stroke-width="2.6"/>
<text x="840.8" y="521.6" text-anchor="end" font-family="'Liberation Sans', sans-serif" font-weight="700" font-size="16">60</text>
<line x1="842.3" y1="440.8" x2="852.3" y2="440.8" stroke="#000" stroke-width="2.6"/>
<text x="840.8" y="446.6" text-anchor="end" font-family="'Liberation Sans', sans-serif" font-weight="700" font-size="16">80</text>
<line x1="890.4" y1="665.9" x2="890.4" y2="675.6999999999999" stroke="#000" stroke-width="2.6"/>
<text transform="translate(894.9,687.9) rotate(-45)" text-anchor="end" font-family="'Liberation Sans', sans-serif" font-weight="700" font-size="17.5">Con</text>
<line x1="947.4" y1="665.9" x2="947.4" y2="675.6999999999999" stroke="#000" stroke-width="2.6"/>
<text transform="translate(951.9,687.9) rotate(-45)" text-anchor="end" font-family="'Liberation Sans', sans-serif" font-weight="700" font-size="17.5">ICP-M</text>
<line x1="1004.5" y1="665.9" x2="1004.5" y2="675.6999999999999" stroke="#000" stroke-width="2.6"/>
<text transform="translate(1009.0,687.9) rotate(-45)" text-anchor="end" font-family="'Liberation Sans', sans-serif" font-weight="700" font-size="17.5">ICP-S</text>
<text transform="translate(808,553.4) rotate(-90)" text-anchor="middle" font-family="'Liberation Sans', sans-serif" font-weight="700" font-size="18.2">Expression</text>
<text transform="translate(939.0,418.0) scale(1,0.9)" text-anchor="middle" font-family="'Liberation Sans', sans-serif" font-size="16" fill="#111">PE(16:0/18:1)</text>
<path d="M886.4 452.5 V447.1 H1004.0 V452.5" fill="none" stroke="#000" stroke-width="2.7"/>
<path d="M942.70 440.00L942.70 437.15M942.70 440.00L945.41 439.12M942.70 440.00L944.38 442.31M942.70 440.00L941.02 442.31M942.70 440.00L939.99 439.12" stroke="#111" stroke-width="1.4" stroke-linecap="round" fill="none"/>
<circle cx="108.6" cy="794.9" r="3.35" fill="#4aaac9"/>
<circle cx="108.6" cy="857.1" r="3.35" fill="#4aaac9"/>
<circle cx="93.3" cy="871.6" r="3.35" fill="#4aaac9"/>
<circle cx="99.4" cy="873.3" r="3.35" fill="#4aaac9"/>
<circle cx="105.5" cy="874.1" r="3.35" fill="#4aaac9"/>
<circle cx="112.0" cy="874.1" r="3.35" fill="#4aaac9"/>
<circle cx="118.3" cy="868.4" r="3.35" fill="#4aaac9"/>
<circle cx="124.4" cy="869.7" r="3.35" fill="#4aaac9"/>
<circle cx="118.3" cy="878.1" r="3.35" fill="#4aaac9"/>
<circle cx="124.4" cy="876.5" r="3.35" fill="#4aaac9"/>
<circle cx="99.4" cy="885.4" r="3.35" fill="#4aaac9"/>
<circle cx="93.3" cy="891.0" r="3.35" fill="#4aaac9"/>
<circle cx="124.4" cy="891.0" r="3.35" fill="#4aaac9"/>
<circle cx="105.5" cy="891.0" r="3.35" fill="#4aaac9"/>
<circle cx="112.0" cy="891.0" r="3.35" fill="#4aaac9"/>
<circle cx="99.4" cy="895.9" r="3.35" fill="#4aaac9"/>
<circle cx="118.3" cy="895.9" r="3.35" fill="#4aaac9"/>
<circle cx="99.4" cy="902.4" r="3.35" fill="#4aaac9"/>
<circle cx="105.5" cy="901.1" r="3.35" fill="#4aaac9"/>
<circle cx="112.0" cy="905.9" r="3.35" fill="#4aaac9"/>
<circle cx="118.3" cy="904.0" r="3.35" fill="#4aaac9"/>
<circle cx="105.5" cy="910.4" r="3.35" fill="#4aaac9"/>
<circle cx="112.0" cy="917.7" r="3.35" fill="#4aaac9"/>
<circle cx="99.4" cy="922.6" r="3.35" fill="#4aaac9"/>
<circle cx="118.3" cy="925.3" r="3.35" fill="#4aaac9"/>
<circle cx="112.0" cy="929.0" r="3.35" fill="#4aaac9"/>
<circle cx="99.4" cy="932.3" r="3.35" fill="#4aaac9"/>
<circle cx="105.5" cy="938.7" r="3.35" fill="#4aaac9"/>
<circle cx="112.0" cy="937.6" r="3.35" fill="#4aaac9"/>
<circle cx="166.1" cy="803.3" r="3.35" fill="#d63b2b"/>
<circle cx="169.4" cy="830.9" r="3.35" fill="#d63b2b"/>
<circle cx="156.8" cy="834.2" r="3.35" fill="#d63b2b"/>
<circle cx="162.9" cy="838.5" r="3.35" fill="#d63b2b"/>
<circle cx="169.4" cy="839.7" r="3.35" fill="#d63b2b"/>
<circle cx="162.9" cy="847.7" r="3.35" fill="#d63b2b"/>
<circle cx="175.7" cy="849.0" r="3.35" fill="#d63b2b"/>
<circle cx="156.8" cy="855.2" r="3.35" fill="#d63b2b"/>
<circle cx="162.9" cy="855.2" r="3.35" fill="#d63b2b"/>
<circle cx="169.4" cy="856.0" r="3.35" fill="#d63b2b"/>
<circle cx="156.8" cy="867.6" r="3.35" fill="#d63b2b"/>
<circle cx="162.9" cy="865.7" r="3.35" fill="#d63b2b"/>
<circle cx="169.4" cy="866.3" r="3.35" fill="#d63b2b"/>
<circle cx="175.7" cy="864.7" r="3.35" fill="#d63b2b"/>
<circle cx="169.4" cy="878.1" r="3.35" fill="#d63b2b"/>
<circle cx="156.8" cy="886.2" r="3.35" fill="#d63b2b"/>
<circle cx="162.9" cy="884.6" r="3.35" fill="#d63b2b"/>
<circle cx="175.7" cy="887.8" r="3.35" fill="#d63b2b"/>
<circle cx="162.9" cy="896.4" r="3.35" fill="#d63b2b"/>
<circle cx="169.4" cy="902.0" r="3.35" fill="#d63b2b"/>
<circle cx="162.9" cy="906.4" r="3.35" fill="#d63b2b"/>
<circle cx="150.6" cy="918.2" r="3.35" fill="#d63b2b"/>
<circle cx="156.8" cy="923.0" r="3.35" fill="#d63b2b"/>
<circle cx="162.9" cy="918.8" r="3.35" fill="#d63b2b"/>
<circle cx="169.4" cy="919.8" r="3.35" fill="#d63b2b"/>
<circle cx="175.7" cy="919.8" r="3.35" fill="#d63b2b"/>
<circle cx="181.8" cy="920.1" r="3.35" fill="#d63b2b"/>
<circle cx="162.9" cy="933.4" r="3.35" fill="#d63b2b"/>
<circle cx="169.4" cy="934.7" r="3.35" fill="#d63b2b"/>
<circle cx="166.1" cy="943.1" r="3.35" fill="#d63b2b"/>
<circle cx="229.0" cy="810.2" r="3.35" fill="#1b9479"/>
<circle cx="218.2" cy="816.7" r="3.35" fill="#1b9479"/>
<circle cx="229.0" cy="818.0" r="3.35" fill="#1b9479"/>
<circle cx="223.0" cy="828.3" r="3.35" fill="#1b9479"/>
<circle cx="229.0" cy="835.8" r="3.35" fill="#1b9479"/>
<circle cx="218.2" cy="841.8" r="3.35" fill="#1b9479"/>
<circle cx="229.0" cy="843.9" r="3.35" fill="#1b9479"/>
<circle cx="239.5" cy="841.3" r="3.35" fill="#1b9479"/>
<circle cx="208.0" cy="847.1" r="3.35" fill="#1b9479"/>
<circle cx="218.2" cy="851.4" r="3.35" fill="#1b9479"/>
<circle cx="229.0" cy="852.3" r="3.35" fill="#1b9479"/>
<circle cx="218.2" cy="861.6" r="3.35" fill="#1b9479"/>
<circle cx="229.0" cy="862.8" r="3.35" fill="#1b9479"/>
<circle cx="208.0" cy="866.8" r="3.35" fill="#1b9479"/>
<circle cx="208.0" cy="875.7" r="3.35" fill="#1b9479"/>
<circle cx="218.2" cy="875.7" r="3.35" fill="#1b9479"/>
<circle cx="229.0" cy="879.4" r="3.35" fill="#1b9479"/>
<circle cx="239.5" cy="871.6" r="3.35" fill="#1b9479"/>
<circle cx="229.0" cy="870.0" r="3.35" fill="#1b9479"/>
<circle cx="218.2" cy="891.9" r="3.35" fill="#1b9479"/>
<circle cx="229.0" cy="896.7" r="3.35" fill="#1b9479"/>
<circle cx="239.5" cy="900.7" r="3.35" fill="#1b9479"/>
<circle cx="208.0" cy="905.6" r="3.35" fill="#1b9479"/>
<circle cx="218.2" cy="907.2" r="3.35" fill="#1b9479"/>
<circle cx="229.0" cy="903.6" r="3.35" fill="#1b9479"/>
<circle cx="239.5" cy="908.0" r="3.35" fill="#1b9479"/>
<circle cx="229.0" cy="911.2" r="3.35" fill="#1b9479"/>
<circle cx="223.0" cy="917.7" r="3.35" fill="#1b9479"/>
<circle cx="233.8" cy="918.8" r="3.35" fill="#1b9479"/>
<circle cx="212.8" cy="923.4" r="3.35" fill="#1b9479"/>
<line x1="89.7" y1="893.1" x2="127.3" y2="893.1" stroke="#000" stroke-width="2.7"/>
<line x1="108.5" y1="888.3" x2="108.5" y2="898.6" stroke="#000" stroke-width="1.6"/>
<line x1="99.1" y1="888.3" x2="117.9" y2="888.3" stroke="#000" stroke-width="1.6"/>
<line x1="99.1" y1="898.6" x2="117.9" y2="898.6" stroke="#000" stroke-width="1.6"/>
<line x1="146.9" y1="881.7" x2="184.5" y2="881.7" stroke="#000" stroke-width="2.7"/>
<line x1="165.7" y1="874.9" x2="165.7" y2="888.1" stroke="#000" stroke-width="1.6"/>
<line x1="156.3" y1="874.9" x2="175.1" y2="874.9" stroke="#000" stroke-width="1.6"/>
<line x1="156.3" y1="888.1" x2="175.1" y2="888.1" stroke="#000" stroke-width="1.6"/>
<line x1="204.4" y1="871.3" x2="242.0" y2="871.3" stroke="#000" stroke-width="2.7"/>
<line x1="223.2" y1="865.5" x2="223.2" y2="877.6" stroke="#000" stroke-width="1.6"/>
<line x1="213.8" y1="865.5" x2="232.6" y2="865.5" stroke="#000" stroke-width="1.6"/>
<line x1="213.8" y1="877.6" x2="232.6" y2="877.6" stroke="#000" stroke-width="1.6"/>
<path d="M70.9 775.0999999999999 V1002.1 H262" fill="none" stroke="#000" stroke-width="2.6"/>
<line x1="60.900000000000006" y1="1002.1" x2="70.9" y2="1002.1" stroke="#000" stroke-width="2.6"/>
<text x="59.400000000000006" y="1007.9" text-anchor="end" font-family="'Liberation Sans', sans-serif" font-weight="700" font-size="16">20</text>
<line x1="60.900000000000006" y1="926.8" x2="70.9" y2="926.8" stroke="#000" stroke-width="2.6"/>
<text x="59.400000000000006" y="932.6" text-anchor="end" font-family="'Liberation Sans', sans-serif" font-weight="700" font-size="16">40</text>
<line x1="60.900000000000006" y1="851.6" x2="70.9" y2="851.6" stroke="#000" stroke-width="2.6"/>
<text x="59.400000000000006" y="857.4" text-anchor="end" font-family="'Liberation Sans', sans-serif" font-weight="700" font-size="16">60</text>
<line x1="60.900000000000006" y1="776.3" x2="70.9" y2="776.3" stroke="#000" stroke-width="2.6"/>
<text x="59.400000000000006" y="782.1" text-anchor="end" font-family="'Liberation Sans', sans-serif" font-weight="700" font-size="16">80</text>
<line x1="108.5" y1="1002.1" x2="108.5" y2="1011.9" stroke="#000" stroke-width="2.6"/>
<text transform="translate(113.0,1024.1) rotate(-45)" text-anchor="end" font-family="'Liberation Sans', sans-serif" font-weight="700" font-size="17.5">Con</text>
<line x1="165.7" y1="1002.1" x2="165.7" y2="1011.9" stroke="#000" stroke-width="2.6"/>
<text transform="translate(170.2,1024.1) rotate(-45)" text-anchor="end" font-family="'Liberation Sans', sans-serif" font-weight="700" font-size="17.5">ICP-M</text>
<line x1="223.2" y1="1002.1" x2="223.2" y2="1011.9" stroke="#000" stroke-width="2.6"/>
<text transform="translate(227.7,1024.1) rotate(-45)" text-anchor="end" font-family="'Liberation Sans', sans-serif" font-weight="700" font-size="17.5">ICP-S</text>
<text transform="translate(26.6,889.2) rotate(-90)" text-anchor="middle" font-family="'Liberation Sans', sans-serif" font-weight="700" font-size="18.2">Expression</text>
<text transform="translate(163.3,762.8) scale(1,0.9)" text-anchor="middle" font-family="'Liberation Sans', sans-serif" font-size="16" fill="#111">PE(16:0/20:2)</text>
<path d="M104.5 785.7 V780.0 H223.3 V785.7" fill="none" stroke="#000" stroke-width="2.7"/>
<path d="M162.70 774.00L162.70 771.15M162.70 774.00L165.41 773.12M162.70 774.00L164.38 776.31M162.70 774.00L161.02 776.31M162.70 774.00L159.99 773.12" stroke="#111" stroke-width="1.4" stroke-linecap="round" fill="none"/>
<circle cx="372.3" cy="838.3" r="3.35" fill="#4aaac9"/>
<circle cx="377.6" cy="843.6" r="3.35" fill="#4aaac9"/>
<circle cx="372.3" cy="847.3" r="3.35" fill="#4aaac9"/>
<circle cx="367.1" cy="850.1" r="3.35" fill="#4aaac9"/>
<circle cx="377.6" cy="851.2" r="3.35" fill="#4aaac9"/>
<circle cx="361.8" cy="863.0" r="3.35" fill="#4aaac9"/>
<circle cx="367.1" cy="864.6" r="3.35" fill="#4aaac9"/>
<circle cx="372.3" cy="865.7" r="3.35" fill="#4aaac9"/>
<circle cx="377.6" cy="867.0" r="3.35" fill="#4aaac9"/>
<circle cx="382.8" cy="865.7" r="3.35" fill="#4aaac9"/>
<circle cx="369.9" cy="875.1" r="3.35" fill="#4aaac9"/>
<circle cx="375.0" cy="874.6" r="3.35" fill="#4aaac9"/>
<circle cx="356.6" cy="887.2" r="3.35" fill="#4aaac9"/>
<circle cx="388.0" cy="888.8" r="3.35" fill="#4aaac9"/>
<circle cx="382.8" cy="882.4" r="3.35" fill="#4aaac9"/>
<circle cx="361.8" cy="886.4" r="3.35" fill="#4aaac9"/>
<circle cx="367.1" cy="885.6" r="3.35" fill="#4aaac9"/>
<circle cx="377.6" cy="885.6" r="3.35" fill="#4aaac9"/>
<circle cx="367.1" cy="893.7" r="3.35" fill="#4aaac9"/>
<circle cx="372.3" cy="892.6" r="3.35" fill="#4aaac9"/>
<circle cx="361.8" cy="897.4" r="3.35" fill="#4aaac9"/>
<circle cx="372.3" cy="900.2" r="3.35" fill="#4aaac9"/>
<circle cx="377.6" cy="897.4" r="3.35" fill="#4aaac9"/>
<circle cx="382.8" cy="896.4" r="3.35" fill="#4aaac9"/>
<circle cx="367.1" cy="908.7" r="3.35" fill="#4aaac9"/>
<circle cx="372.3" cy="912.0" r="3.35" fill="#4aaac9"/>
<circle cx="369.9" cy="919.5" r="3.35" fill="#4aaac9"/>
<circle cx="375.0" cy="922.8" r="3.35" fill="#4aaac9"/>
<circle cx="372.3" cy="958.8" r="3.35" fill="#4aaac9"/>
<circle cx="429.3" cy="832.8" r="3.35" fill="#d63b2b"/>
<circle cx="432.1" cy="851.7" r="3.35" fill="#d63b2b"/>
<circle cx="426.4" cy="854.9" r="3.35" fill="#d63b2b"/>
<circle cx="429.3" cy="861.9" r="3.35" fill="#d63b2b"/>
<circle cx="429.3" cy="869.1" r="3.35" fill="#d63b2b"/>
<circle cx="418.7" cy="879.5" r="3.35" fill="#d63b2b"/>
<circle cx="418.7" cy="887.2" r="3.35" fill="#d63b2b"/>
<circle cx="429.3" cy="884.0" r="3.35" fill="#d63b2b"/>
<circle cx="439.7" cy="883.5" r="3.35" fill="#d63b2b"/>
<circle cx="445.0" cy="890.5" r="3.35" fill="#d63b2b"/>
<circle cx="413.5" cy="895.3" r="3.35" fill="#d63b2b"/>
<circle cx="418.7" cy="897.4" r="3.35" fill="#d63b2b"/>
<circle cx="429.3" cy="897.7" r="3.35" fill="#d63b2b"/>
<circle cx="439.7" cy="896.9" r="3.35" fill="#d63b2b"/>
<circle cx="413.5" cy="903.7" r="3.35" fill="#d63b2b"/>
<circle cx="418.7" cy="905.0" r="3.35" fill="#d63b2b"/>
<circle cx="434.5" cy="905.8" r="3.35" fill="#d63b2b"/>
<circle cx="439.7" cy="901.8" r="3.35" fill="#d63b2b"/>
<circle cx="445.0" cy="900.2" r="3.35" fill="#d63b2b"/>
<circle cx="413.5" cy="911.5" r="3.35" fill="#d63b2b"/>
<circle cx="424.0" cy="909.4" r="3.35" fill="#d63b2b"/>
<circle cx="429.3" cy="913.1" r="3.35" fill="#d63b2b"/>
<circle cx="434.5" cy="912.6" r="3.35" fill="#d63b2b"/>
<circle cx="439.7" cy="908.7" r="3.35" fill="#d63b2b"/>
<circle cx="445.0" cy="907.4" r="3.35" fill="#d63b2b"/>
<circle cx="429.3" cy="938.5" r="3.35" fill="#d63b2b"/>
<circle cx="424.0" cy="889.6" r="3.35" fill="#d63b2b"/>
<circle cx="434.5" cy="888.8" r="3.35" fill="#d63b2b"/>
<circle cx="424.0" cy="896.9" r="3.35" fill="#d63b2b"/>
<circle cx="434.5" cy="896.9" r="3.35" fill="#d63b2b"/>
<circle cx="486.2" cy="811.8" r="3.35" fill="#1b9479"/>
<circle cx="478.5" cy="850.9" r="3.35" fill="#1b9479"/>
<circle cx="486.2" cy="852.5" r="3.35" fill="#1b9479"/>
<circle cx="486.2" cy="866.2" r="3.35" fill="#1b9479"/>
<circle cx="478.5" cy="877.5" r="3.35" fill="#1b9479"/>
<circle cx="486.2" cy="878.7" r="3.35" fill="#1b9479"/>
<circle cx="494.3" cy="880.8" r="3.35" fill="#1b9479"/>
<circle cx="470.9" cy="890.0" r="3.35" fill="#1b9479"/>
<circle cx="478.5" cy="891.3" r="3.35" fill="#1b9479"/>
<circle cx="486.2" cy="886.7" r="3.35" fill="#1b9479"/>
<circle cx="494.3" cy="887.7" r="3.35" fill="#1b9479"/>
<circle cx="502.0" cy="890.5" r="3.35" fill="#1b9479"/>
<circle cx="486.2" cy="897.7" r="3.35" fill="#1b9479"/>
<circle cx="478.5" cy="901.0" r="3.35" fill="#1b9479"/>
<circle cx="494.3" cy="901.8" r="3.35" fill="#1b9479"/>
<circle cx="470.9" cy="909.0" r="3.35" fill="#1b9479"/>
<circle cx="478.5" cy="907.4" r="3.35" fill="#1b9479"/>
<circle cx="486.2" cy="911.5" r="3.35" fill="#1b9479"/>
<circle cx="494.3" cy="909.9" r="3.35" fill="#1b9479"/>
<circle cx="502.0" cy="912.0" r="3.35" fill="#1b9479"/>
<circle cx="470.9" cy="917.1" r="3.35" fill="#1b9479"/>
<circle cx="478.5" cy="915.5" r="3.35" fill="#1b9479"/>
<circle cx="486.2" cy="919.1" r="3.35" fill="#1b9479"/>
<circle cx="494.3" cy="919.5" r="3.35" fill="#1b9479"/>
<circle cx="502.0" cy="920.4" r="3.35" fill="#1b9479"/>
<circle cx="470.9" cy="924.4" r="3.35" fill="#1b9479"/>
<circle cx="486.2" cy="925.5" r="3.35" fill="#1b9479"/>
<circle cx="486.2" cy="933.3" r="3.35" fill="#1b9479"/>
<circle cx="494.3" cy="934.1" r="3.35" fill="#1b9479"/>
<circle cx="478.5" cy="938.5" r="3.35" fill="#1b9479"/>
<line x1="353.5" y1="883.7" x2="391.1" y2="883.7" stroke="#000" stroke-width="2.7"/>
<line x1="372.3" y1="879.1" x2="372.3" y2="888.5" stroke="#000" stroke-width="1.6"/>
<line x1="362.9" y1="879.1" x2="381.7" y2="879.1" stroke="#000" stroke-width="1.6"/>
<line x1="362.9" y1="888.5" x2="381.7" y2="888.5" stroke="#000" stroke-width="1.6"/>
<line x1="409.9" y1="892.1" x2="447.5" y2="892.1" stroke="#000" stroke-width="2.7"/>
<line x1="428.7" y1="888.4" x2="428.7" y2="896.1" stroke="#000" stroke-width="1.6"/>
<line x1="419.3" y1="888.4" x2="438.1" y2="888.4" stroke="#000" stroke-width="1.6"/>
<line x1="419.3" y1="896.1" x2="438.1" y2="896.1" stroke="#000" stroke-width="1.6"/>
<line x1="466.8" y1="898.5" x2="504.4" y2="898.5" stroke="#000" stroke-width="2.7"/>
<line x1="485.6" y1="893.7" x2="485.6" y2="903.7" stroke="#000" stroke-width="1.6"/>
<line x1="476.2" y1="893.7" x2="495.0" y2="893.7" stroke="#000" stroke-width="1.6"/>
<line x1="476.2" y1="903.7" x2="495.0" y2="903.7" stroke="#000" stroke-width="1.6"/>
<path d="M335.3 775.9 V1001.5 H525" fill="none" stroke="#000" stroke-width="2.6"/>
<line x1="325.3" y1="1001.5" x2="335.3" y2="1001.5" stroke="#000" stroke-width="2.6"/>
<text x="323.8" y="1007.3" text-anchor="end" font-family="'Liberation Sans', sans-serif" font-weight="700" font-size="16">0</text>
<line x1="325.3" y1="926.7" x2="335.3" y2="926.7" stroke="#000" stroke-width="2.6"/>
<text x="323.8" y="932.5" text-anchor="end" font-family="'Liberation Sans', sans-serif" font-weight="700" font-size="16">10</text>
<line x1="325.3" y1="851.9" x2="335.3" y2="851.9" stroke="#000" stroke-width="2.6"/>
<text x="323.8" y="857.7" text-anchor="end" font-family="'Liberation Sans', sans-serif" font-weight="700" font-size="16">20</text>
<line x1="325.3" y1="777.1" x2="335.3" y2="777.1" stroke="#000" stroke-width="2.6"/>
<text x="323.8" y="782.9" text-anchor="end" font-family="'Liberation Sans', sans-serif" font-weight="700" font-size="16">30</text>
<line x1="372.3" y1="1001.5" x2="372.3" y2="1011.3" stroke="#000" stroke-width="2.6"/>
<text transform="translate(376.8,1023.5) rotate(-45)" text-anchor="end" font-family="'Liberation Sans', sans-serif" font-weight="700" font-size="17.5">Con</text>
<line x1="428.7" y1="1001.5" x2="428.7" y2="1011.3" stroke="#000" stroke-width="2.6"/>
<text transform="translate(433.2,1023.5) rotate(-45)" text-anchor="end" font-family="'Liberation Sans', sans-serif" font-weight="700" font-size="17.5">ICP-M</text>
<line x1="485.6" y1="1001.5" x2="485.6" y2="1011.3" stroke="#000" stroke-width="2.6"/>
<text transform="translate(490.1,1023.5) rotate(-45)" text-anchor="end" font-family="'Liberation Sans', sans-serif" font-weight="700" font-size="17.5">ICP-S</text>
<text transform="translate(290.7,889.3) rotate(-90)" text-anchor="middle" font-family="'Liberation Sans', sans-serif" font-weight="700" font-size="18.2">Expression</text>
<text transform="translate(429.8,762.8) scale(1,0.9)" text-anchor="middle" font-family="'Liberation Sans', sans-serif" font-size="16" fill="#111">PE(18:0/22:4)</text>
<path d="M368.5 787.1 V782.1 H485.5 V787.1" fill="none" stroke="#000" stroke-width="2.7"/>
<path d="M425.90 775.60L425.90 772.75M425.90 775.60L428.61 774.72M425.90 775.60L427.58 777.91M425.90 775.60L424.22 777.91M425.90 775.60L423.19 774.72" stroke="#111" stroke-width="1.4" stroke-linecap="round" fill="none"/>
<circle cx="636.9" cy="880.8" r="3.35" fill="#4aaac9"/>
<circle cx="643.1" cy="883.5" r="3.35" fill="#4aaac9"/>
<circle cx="624.3" cy="897.9" r="3.35" fill="#4aaac9"/>
<circle cx="630.4" cy="894.9" r="3.35" fill="#4aaac9"/>
<circle cx="636.9" cy="893.5" r="3.35" fill="#4aaac9"/>
<circle cx="643.1" cy="892.3" r="3.35" fill="#4aaac9"/>
<circle cx="648.9" cy="892.8" r="3.35" fill="#4aaac9"/>
<circle cx="655.0" cy="894.5" r="3.35" fill="#4aaac9"/>
<circle cx="630.4" cy="905.8" r="3.35" fill="#4aaac9"/>
<circle cx="636.9" cy="901.9" r="3.35" fill="#4aaac9"/>
<circle cx="643.1" cy="905.8" r="3.35" fill="#4aaac9"/>
<circle cx="648.9" cy="902.8" r="3.35" fill="#4aaac9"/>
<circle cx="630.4" cy="914.2" r="3.35" fill="#4aaac9"/>
<circle cx="643.1" cy="912.1" r="3.35" fill="#4aaac9"/>
<circle cx="648.9" cy="910.3" r="3.35" fill="#4aaac9"/>
<circle cx="636.9" cy="916.8" r="3.35" fill="#4aaac9"/>
<circle cx="648.9" cy="916.8" r="3.35" fill="#4aaac9"/>
<circle cx="643.1" cy="919.5" r="3.35" fill="#4aaac9"/>
<circle cx="636.9" cy="932.6" r="3.35" fill="#4aaac9"/>
<circle cx="643.1" cy="930.9" r="3.35" fill="#4aaac9"/>
<circle cx="636.9" cy="942.8" r="3.35" fill="#4aaac9"/>
<circle cx="643.1" cy="940.2" r="3.35" fill="#4aaac9"/>
<circle cx="624.3" cy="950.6" r="3.35" fill="#4aaac9"/>
<circle cx="630.4" cy="954.9" r="3.35" fill="#4aaac9"/>
<circle cx="636.9" cy="952.8" r="3.35" fill="#4aaac9"/>
<circle cx="643.1" cy="954.9" r="3.35" fill="#4aaac9"/>
<circle cx="648.9" cy="954.6" r="3.35" fill="#4aaac9"/>
<circle cx="655.0" cy="950.6" r="3.35" fill="#4aaac9"/>
<circle cx="636.9" cy="964.8" r="3.35" fill="#4aaac9"/>
<circle cx="643.1" cy="961.1" r="3.35" fill="#4aaac9"/>
<circle cx="695.9" cy="793.9" r="3.35" fill="#d63b2b"/>
<circle cx="695.9" cy="855.4" r="3.35" fill="#d63b2b"/>
<circle cx="695.9" cy="863.8" r="3.35" fill="#d63b2b"/>
<circle cx="695.9" cy="871.7" r="3.35" fill="#d63b2b"/>
<circle cx="698.9" cy="878.2" r="3.35" fill="#d63b2b"/>
<circle cx="687.0" cy="881.7" r="3.35" fill="#d63b2b"/>
<circle cx="692.8" cy="885.8" r="3.35" fill="#d63b2b"/>
<circle cx="705.4" cy="882.6" r="3.35" fill="#d63b2b"/>
<circle cx="680.8" cy="899.8" r="3.35" fill="#d63b2b"/>
<circle cx="687.0" cy="899.8" r="3.35" fill="#d63b2b"/>
<circle cx="705.4" cy="897.9" r="3.35" fill="#d63b2b"/>
<circle cx="711.8" cy="898.4" r="3.35" fill="#d63b2b"/>
<circle cx="698.9" cy="903.7" r="3.35" fill="#d63b2b"/>
<circle cx="711.8" cy="909.8" r="3.35" fill="#d63b2b"/>
<circle cx="687.0" cy="915.1" r="3.35" fill="#d63b2b"/>
<circle cx="692.8" cy="913.3" r="3.35" fill="#d63b2b"/>
<circle cx="698.9" cy="912.1" r="3.35" fill="#d63b2b"/>
<circle cx="705.4" cy="914.7" r="3.35" fill="#d63b2b"/>
<circle cx="680.8" cy="921.2" r="3.35" fill="#d63b2b"/>
<circle cx="687.0" cy="922.1" r="3.35" fill="#d63b2b"/>
<circle cx="705.4" cy="922.1" r="3.35" fill="#d63b2b"/>
<circle cx="692.8" cy="927.0" r="3.35" fill="#d63b2b"/>
<circle cx="698.9" cy="926.0" r="3.35" fill="#d63b2b"/>
<circle cx="711.8" cy="925.6" r="3.35" fill="#d63b2b"/>
<circle cx="680.8" cy="929.5" r="3.35" fill="#d63b2b"/>
<circle cx="705.4" cy="929.5" r="3.35" fill="#d63b2b"/>
<circle cx="695.9" cy="937.4" r="3.35" fill="#d63b2b"/>
<circle cx="695.9" cy="945.3" r="3.35" fill="#d63b2b"/>
<circle cx="689.8" cy="949.7" r="3.35" fill="#d63b2b"/>
<circle cx="702.1" cy="948.5" r="3.35" fill="#d63b2b"/>
<circle cx="742.8" cy="857.7" r="3.35" fill="#1b9479"/>
<circle cx="749.3" cy="864.2" r="3.35" fill="#1b9479"/>
<circle cx="755.7" cy="864.7" r="3.35" fill="#1b9479"/>
<circle cx="761.6" cy="864.2" r="3.35" fill="#1b9479"/>
<circle cx="761.6" cy="871.7" r="3.35" fill="#1b9479"/>
<circle cx="749.3" cy="877.0" r="3.35" fill="#1b9479"/>
<circle cx="755.7" cy="881.4" r="3.35" fill="#1b9479"/>
<circle cx="761.6" cy="882.2" r="3.35" fill="#1b9479"/>
<circle cx="742.8" cy="884.7" r="3.35" fill="#1b9479"/>
<circle cx="755.7" cy="890.5" r="3.35" fill="#1b9479"/>
<circle cx="761.6" cy="890.5" r="3.35" fill="#1b9479"/>
<circle cx="742.8" cy="896.6" r="3.35" fill="#1b9479"/>
<circle cx="749.3" cy="894.5" r="3.35" fill="#1b9479"/>
<circle cx="737.0" cy="906.3" r="3.35" fill="#1b9479"/>
<circle cx="742.8" cy="905.4" r="3.35" fill="#1b9479"/>
<circle cx="755.7" cy="906.8" r="3.35" fill="#1b9479"/>
<circle cx="767.4" cy="906.8" r="3.35" fill="#1b9479"/>
<circle cx="761.6" cy="901.9" r="3.35" fill="#1b9479"/>
<circle cx="749.3" cy="901.0" r="3.35" fill="#1b9479"/>
<circle cx="749.3" cy="912.1" r="3.35" fill="#1b9479"/>
<circle cx="742.8" cy="916.3" r="3.35" fill="#1b9479"/>
<circle cx="755.7" cy="918.1" r="3.35" fill="#1b9479"/>
<circle cx="761.6" cy="917.4" r="3.35" fill="#1b9479"/>
<circle cx="749.3" cy="922.1" r="3.35" fill="#1b9479"/>
<circle cx="742.8" cy="928.6" r="3.35" fill="#1b9479"/>
<circle cx="749.3" cy="931.8" r="3.35" fill="#1b9479"/>
<circle cx="755.7" cy="936.2" r="3.35" fill="#1b9479"/>
<circle cx="761.6" cy="933.9" r="3.35" fill="#1b9479"/>
<circle cx="742.8" cy="937.9" r="3.35" fill="#1b9479"/>
<line x1="620.6" y1="920.9" x2="658.2" y2="920.9" stroke="#000" stroke-width="2.7"/>
<line x1="639.4" y1="916.5" x2="639.4" y2="925.6" stroke="#000" stroke-width="1.6"/>
<line x1="630.0" y1="916.5" x2="648.8" y2="916.5" stroke="#000" stroke-width="1.6"/>
<line x1="630.0" y1="925.6" x2="648.8" y2="925.6" stroke="#000" stroke-width="1.6"/>
<line x1="676.9" y1="905.4" x2="714.5" y2="905.4" stroke="#000" stroke-width="2.7"/>
<line x1="695.7" y1="899.8" x2="695.7" y2="911.2" stroke="#000" stroke-width="1.6"/>
<line x1="686.3" y1="899.8" x2="705.1" y2="899.8" stroke="#000" stroke-width="1.6"/>
<line x1="686.3" y1="911.2" x2="705.1" y2="911.2" stroke="#000" stroke-width="1.6"/>
<line x1="733.2" y1="900.5" x2="770.8" y2="900.5" stroke="#000" stroke-width="2.7"/>
<line x1="752.0" y1="896.3" x2="752.0" y2="904.5" stroke="#000" stroke-width="1.6"/>
<line x1="742.6" y1="896.3" x2="761.4" y2="896.3" stroke="#000" stroke-width="1.6"/>
<line x1="742.6" y1="904.5" x2="761.4" y2="904.5" stroke="#000" stroke-width="1.6"/>
<path d="M603.0 778.9 V1001 H790" fill="none" stroke="#000" stroke-width="2.6"/>
<line x1="593.0" y1="1001.0" x2="603.0" y2="1001.0" stroke="#000" stroke-width="2.6"/>
<text x="591.5" y="1006.8" text-anchor="end" font-family="'Liberation Sans', sans-serif" font-weight="700" font-size="16">0</text>
<line x1="593.0" y1="927.4" x2="603.0" y2="927.4" stroke="#000" stroke-width="2.6"/>
<text x="591.5" y="933.2" text-anchor="end" font-family="'Liberation Sans', sans-serif" font-weight="700" font-size="16">5</text>
<line x1="593.0" y1="853.7" x2="603.0" y2="853.7" stroke="#000" stroke-width="2.6"/>
<text x="591.5" y="859.5" text-anchor="end" font-family="'Liberation Sans', sans-serif" font-weight="700" font-size="16">10</text>
<line x1="593.0" y1="780.1" x2="603.0" y2="780.1" stroke="#000" stroke-width="2.6"/>
<text x="591.5" y="785.9" text-anchor="end" font-family="'Liberation Sans', sans-serif" font-weight="700" font-size="16">15</text>
<line x1="639.4" y1="1001" x2="639.4" y2="1010.8" stroke="#000" stroke-width="2.6"/>
<text transform="translate(643.9,1023) rotate(-45)" text-anchor="end" font-family="'Liberation Sans', sans-serif" font-weight="700" font-size="17.5">Con</text>
<line x1="695.7" y1="1001" x2="695.7" y2="1010.8" stroke="#000" stroke-width="2.6"/>
<text transform="translate(700.2,1023) rotate(-45)" text-anchor="end" font-family="'Liberation Sans', sans-serif" font-weight="700" font-size="17.5">ICP-M</text>
<line x1="752.0" y1="1001" x2="752.0" y2="1010.8" stroke="#000" stroke-width="2.6"/>
<text transform="translate(756.5,1023) rotate(-45)" text-anchor="end" font-family="'Liberation Sans', sans-serif" font-weight="700" font-size="17.5">ICP-S</text>
<text transform="translate(558.8,890.5) rotate(-90)" text-anchor="middle" font-family="'Liberation Sans', sans-serif" font-weight="700" font-size="18.2">Expression</text>
<text transform="translate(692.6,762.8) scale(1,0.9)" text-anchor="middle" font-family="'Liberation Sans', sans-serif" font-size="16" fill="#111">PE(18:1/20:3)</text>
<path d="M636.0 787.8 V782.8 H751.9 V787.8" fill="none" stroke="#000" stroke-width="2.7"/>
<path d="M693.00 776.40L693.00 773.55M693.00 776.40L695.71 775.52M693.00 776.40L694.68 778.71M693.00 776.40L691.32 778.71M693.00 776.40L690.29 775.52" stroke="#111" stroke-width="1.4" stroke-linecap="round" fill="none"/>
<circle cx="897.3" cy="793.3" r="3.35" fill="#4aaac9"/>
<circle cx="897.3" cy="838.3" r="3.35" fill="#4aaac9"/>
<circle cx="907.0" cy="861.5" r="3.35" fill="#4aaac9"/>
<circle cx="888.2" cy="866.9" r="3.35" fill="#4aaac9"/>
<circle cx="894.4" cy="872.1" r="3.35" fill="#4aaac9"/>
<circle cx="900.9" cy="867.2" r="3.35" fill="#4aaac9"/>
<circle cx="888.2" cy="885.9" r="3.35" fill="#4aaac9"/>
<circle cx="894.4" cy="885.9" r="3.35" fill="#4aaac9"/>
<circle cx="907.0" cy="885.4" r="3.35" fill="#4aaac9"/>
<circle cx="900.9" cy="889.6" r="3.35" fill="#4aaac9"/>
<circle cx="881.7" cy="893.2" r="3.35" fill="#4aaac9"/>
<circle cx="913.5" cy="893.2" r="3.35" fill="#4aaac9"/>
<circle cx="894.4" cy="894.0" r="3.35" fill="#4aaac9"/>
<circle cx="900.9" cy="901.3" r="3.35" fill="#4aaac9"/>
<circle cx="907.0" cy="893.2" r="3.35" fill="#4aaac9"/>
<circle cx="881.7" cy="908.1" r="3.35" fill="#4aaac9"/>
<circle cx="894.4" cy="910.7" r="3.35" fill="#4aaac9"/>
<circle cx="900.9" cy="907.8" r="3.35" fill="#4aaac9"/>
<circle cx="907.0" cy="908.1" r="3.35" fill="#4aaac9"/>
<circle cx="913.5" cy="907.8" r="3.35" fill="#4aaac9"/>
<circle cx="888.2" cy="914.3" r="3.35" fill="#4aaac9"/>
<circle cx="900.9" cy="915.1" r="3.35" fill="#4aaac9"/>
<circle cx="894.4" cy="919.2" r="3.35" fill="#4aaac9"/>
<circle cx="888.2" cy="929.7" r="3.35" fill="#4aaac9"/>
<circle cx="894.4" cy="927.6" r="3.35" fill="#4aaac9"/>
<circle cx="900.9" cy="925.2" r="3.35" fill="#4aaac9"/>
<circle cx="907.0" cy="927.6" r="3.35" fill="#4aaac9"/>
<circle cx="913.5" cy="928.9" r="3.35" fill="#4aaac9"/>
<circle cx="900.9" cy="933.3" r="3.35" fill="#4aaac9"/>
<circle cx="897.3" cy="949.7" r="3.35" fill="#4aaac9"/>
<circle cx="954.8" cy="795.3" r="3.35" fill="#d63b2b"/>
<circle cx="952.0" cy="826.3" r="3.35" fill="#d63b2b"/>
<circle cx="957.4" cy="823.0" r="3.35" fill="#d63b2b"/>
<circle cx="954.8" cy="839.3" r="3.35" fill="#d63b2b"/>
<circle cx="954.8" cy="849.3" r="3.35" fill="#d63b2b"/>
<circle cx="960.1" cy="846.9" r="3.35" fill="#d63b2b"/>
<circle cx="954.8" cy="856.7" r="3.35" fill="#d63b2b"/>
<circle cx="949.6" cy="863.1" r="3.35" fill="#d63b2b"/>
<circle cx="960.1" cy="864.8" r="3.35" fill="#d63b2b"/>
<circle cx="954.8" cy="869.6" r="3.35" fill="#d63b2b"/>
<circle cx="949.6" cy="872.9" r="3.35" fill="#d63b2b"/>
<circle cx="965.5" cy="874.5" r="3.35" fill="#d63b2b"/>
<circle cx="949.6" cy="880.2" r="3.35" fill="#d63b2b"/>
<circle cx="960.1" cy="880.2" r="3.35" fill="#d63b2b"/>
<circle cx="954.8" cy="886.7" r="3.35" fill="#d63b2b"/>
<circle cx="954.8" cy="892.4" r="3.35" fill="#d63b2b"/>
<circle cx="939.0" cy="901.0" r="3.35" fill="#d63b2b"/>
<circle cx="970.7" cy="901.3" r="3.35" fill="#d63b2b"/>
<circle cx="943.9" cy="907.5" r="3.35" fill="#d63b2b"/>
<circle cx="949.6" cy="905.4" r="3.35" fill="#d63b2b"/>
<circle cx="954.8" cy="905.9" r="3.35" fill="#d63b2b"/>
<circle cx="960.1" cy="906.5" r="3.35" fill="#d63b2b"/>
<circle cx="965.5" cy="905.9" r="3.35" fill="#d63b2b"/>
<circle cx="954.8" cy="923.7" r="3.35" fill="#d63b2b"/>
<circle cx="960.1" cy="928.1" r="3.35" fill="#d63b2b"/>
<circle cx="965.5" cy="927.3" r="3.35" fill="#d63b2b"/>
<circle cx="949.6" cy="929.7" r="3.35" fill="#d63b2b"/>
<circle cx="949.6" cy="936.2" r="3.35" fill="#d63b2b"/>
<circle cx="960.1" cy="935.4" r="3.35" fill="#d63b2b"/>
<circle cx="1012.1" cy="799.0" r="3.35" fill="#1b9479"/>
<circle cx="1012.1" cy="810.0" r="3.35" fill="#1b9479"/>
<circle cx="1012.1" cy="823.0" r="3.35" fill="#1b9479"/>
<circle cx="1008.9" cy="836.3" r="3.35" fill="#1b9479"/>
<circle cx="1015.4" cy="837.6" r="3.35" fill="#1b9479"/>
<circle cx="1021.9" cy="836.0" r="3.35" fill="#1b9479"/>
<circle cx="1008.9" cy="849.3" r="3.35" fill="#1b9479"/>
<circle cx="1015.4" cy="850.6" r="3.35" fill="#1b9479"/>
<circle cx="1008.9" cy="862.0" r="3.35" fill="#1b9479"/>
<circle cx="1021.9" cy="865.9" r="3.35" fill="#1b9479"/>
<circle cx="1015.4" cy="868.8" r="3.35" fill="#1b9479"/>
<circle cx="996.4" cy="876.1" r="3.35" fill="#1b9479"/>
<circle cx="1008.9" cy="873.7" r="3.35" fill="#1b9479"/>
<circle cx="1021.9" cy="880.2" r="3.35" fill="#1b9479"/>
<circle cx="1028.4" cy="877.8" r="3.35" fill="#1b9479"/>
<circle cx="1008.9" cy="880.2" r="3.35" fill="#1b9479"/>
<circle cx="1002.4" cy="880.2" r="3.35" fill="#1b9479"/>
<circle cx="1015.4" cy="880.2" r="3.35" fill="#1b9479"/>
<circle cx="1003.2" cy="889.9" r="3.35" fill="#1b9479"/>
<circle cx="1015.4" cy="891.9" r="3.35" fill="#1b9479"/>
<circle cx="1008.9" cy="894.0" r="3.35" fill="#1b9479"/>
<circle cx="1015.4" cy="899.4" r="3.35" fill="#1b9479"/>
<circle cx="1008.9" cy="903.3" r="3.35" fill="#1b9479"/>
<circle cx="1008.9" cy="910.7" r="3.35" fill="#1b9479"/>
<circle cx="1015.4" cy="915.1" r="3.35" fill="#1b9479"/>
<circle cx="1021.9" cy="911.9" r="3.35" fill="#1b9479"/>
<circle cx="1003.2" cy="917.2" r="3.35" fill="#1b9479"/>
<circle cx="1008.9" cy="921.1" r="3.35" fill="#1b9479"/>
<circle cx="1012.1" cy="928.9" r="3.35" fill="#1b9479"/>
<circle cx="1012.1" cy="938.7" r="3.35" fill="#1b9479"/>
<line x1="878.6" y1="898.1" x2="916.2" y2="898.1" stroke="#000" stroke-width="2.7"/>
<line x1="897.4" y1="892.1" x2="897.4" y2="903.8" stroke="#000" stroke-width="1.6"/>
<line x1="888.0" y1="892.1" x2="906.8" y2="892.1" stroke="#000" stroke-width="1.6"/>
<line x1="888.0" y1="903.8" x2="906.8" y2="903.8" stroke="#000" stroke-width="1.6"/>
<line x1="936.1" y1="883.5" x2="973.7" y2="883.5" stroke="#000" stroke-width="2.7"/>
<line x1="954.9" y1="877.0" x2="954.9" y2="890.0" stroke="#000" stroke-width="1.6"/>
<line x1="945.5" y1="877.0" x2="964.3" y2="877.0" stroke="#000" stroke-width="1.6"/>
<line x1="945.5" y1="890.0" x2="964.3" y2="890.0" stroke="#000" stroke-width="1.6"/>
<line x1="993.0" y1="877.3" x2="1030.6" y2="877.3" stroke="#000" stroke-width="2.7"/>
<line x1="1011.8" y1="870.8" x2="1011.8" y2="883.5" stroke="#000" stroke-width="1.6"/>
<line x1="1002.4" y1="870.8" x2="1021.2" y2="870.8" stroke="#000" stroke-width="1.6"/>
<line x1="1002.4" y1="883.5" x2="1021.2" y2="883.5" stroke="#000" stroke-width="1.6"/>
<path d="M859.2 773.5999999999999 V1001 H1050" fill="none" stroke="#000" stroke-width="2.6"/>
<line x1="849.2" y1="1001.0" x2="859.2" y2="1001.0" stroke="#000" stroke-width="2.6"/>
<text x="847.7" y="1006.8" text-anchor="end" font-family="'Liberation Sans', sans-serif" font-weight="700" font-size="16">40</text>
<line x1="849.2" y1="944.5" x2="859.2" y2="944.5" stroke="#000" stroke-width="2.6"/>
<text x="847.7" y="950.2" text-anchor="end" font-family="'Liberation Sans', sans-serif" font-weight="700" font-size="16">60</text>
<line x1="849.2" y1="887.9" x2="859.2" y2="887.9" stroke="#000" stroke-width="2.6"/>
<text x="847.7" y="893.7" text-anchor="end" font-family="'Liberation Sans', sans-serif" font-weight="700" font-size="16">80</text>
<line x1="849.2" y1="831.3" x2="859.2" y2="831.3" stroke="#000" stroke-width="2.6"/>
<text x="847.7" y="837.1" text-anchor="end" font-family="'Liberation Sans', sans-serif" font-weight="700" font-size="16">100</text>
<line x1="849.2" y1="774.8" x2="859.2" y2="774.8" stroke="#000" stroke-width="2.6"/>
<text x="847.7" y="780.6" text-anchor="end" font-family="'Liberation Sans', sans-serif" font-weight="700" font-size="16">120</text>
<line x1="897.4" y1="1001" x2="897.4" y2="1010.8" stroke="#000" stroke-width="2.6"/>
<text transform="translate(901.9,1023) rotate(-45)" text-anchor="end" font-family="'Liberation Sans', sans-serif" font-weight="700" font-size="17.5">Con</text>
<line x1="954.9" y1="1001" x2="954.9" y2="1010.8" stroke="#000" stroke-width="2.6"/>
<text transform="translate(959.4,1023) rotate(-45)" text-anchor="end" font-family="'Liberation Sans', sans-serif" font-weight="700" font-size="17.5">ICP-M</text>
<line x1="1011.8" y1="1001" x2="1011.8" y2="1010.8" stroke="#000" stroke-width="2.6"/>
<text transform="translate(1016.3,1023) rotate(-45)" text-anchor="end" font-family="'Liberation Sans', sans-serif" font-weight="700" font-size="17.5">ICP-S</text>
<text transform="translate(806.1,887.9) rotate(-90)" text-anchor="middle" font-family="'Liberation Sans', sans-serif" font-weight="700" font-size="18.2">Expression</text>
<text transform="translate(953.5,762.8) scale(1,0.9)" text-anchor="middle" font-family="'Liberation Sans', sans-serif" font-size="16" fill="#111">PE(18:1/20:4)</text>
<path d="M893.5 782.8 V777.5 H1011.2 V782.8" fill="none" stroke="#000" stroke-width="2.7"/>
<path d="M952.00 771.60L952.00 768.75M952.00 771.60L954.71 770.72M952.00 771.60L953.68 773.91M952.00 771.60L950.32 773.91M952.00 771.60L949.29 770.72" stroke="#111" stroke-width="1.4" stroke-linecap="round" fill="none"/>
</svg></body></html>
